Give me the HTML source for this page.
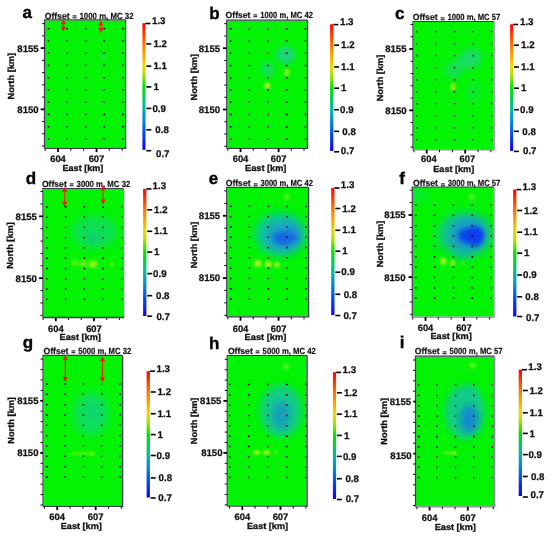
<!DOCTYPE html>
<html><head><meta charset="utf-8"><title>Figure</title>
<style>
html,body{margin:0;padding:0;background:#fff;overflow:hidden;}
svg{display:block;text-rendering:geometricPrecision;}
.t{font-family:"Liberation Sans", sans-serif;font-weight:bold;font-size:9.6px;fill:#111;stroke:#111;stroke-width:0.25px;}
.xl{font-family:"Liberation Sans", sans-serif;font-weight:bold;font-size:9.4px;fill:#111;stroke:#111;stroke-width:0.25px;}
.cl{font-family:"Liberation Sans", sans-serif;font-weight:bold;font-size:9.7px;fill:#111;stroke:#111;stroke-width:0.25px;}
.ax{font-family:"Liberation Sans", sans-serif;font-weight:bold;font-size:8.8px;fill:#111;stroke:#111;stroke-width:0.3px;}
.ti{font-family:"Liberation Sans", sans-serif;font-weight:bold;font-size:8.9px;fill:#111;stroke:#111;stroke-width:0.18px;}
.lt{font-family:"Liberation Sans", sans-serif;font-weight:bold;font-size:17px;fill:#000;stroke:#000;stroke-width:0.35px;}
</style></head>
<body>
<svg width="550" height="537" viewBox="0 0 550 537">
<defs>
<linearGradient id="cbg" x1="0" y1="1" x2="0" y2="0"><stop offset="0.0" stop-color="#1000f0"/><stop offset="0.17" stop-color="#0060f0"/><stop offset="0.25" stop-color="#0090d0"/><stop offset="0.33" stop-color="#00b8a0"/><stop offset="0.5" stop-color="#00e400"/><stop offset="0.6" stop-color="#b0e000"/><stop offset="0.67" stop-color="#f0d800"/><stop offset="0.83" stop-color="#ff7800"/><stop offset="1.0" stop-color="#ff0000"/></linearGradient>
<filter id="bl0_8" x="-100%" y="-100%" width="300%" height="300%"><feGaussianBlur stdDeviation="0.8"/></filter>
<filter id="bl1_5" x="-100%" y="-100%" width="300%" height="300%"><feGaussianBlur stdDeviation="1.5"/></filter>
<filter id="bl2_5" x="-100%" y="-100%" width="300%" height="300%"><feGaussianBlur stdDeviation="2.5"/></filter>
<filter id="bl3" x="-100%" y="-100%" width="300%" height="300%"><feGaussianBlur stdDeviation="3"/></filter>
<filter id="bl3_5" x="-100%" y="-100%" width="300%" height="300%"><feGaussianBlur stdDeviation="3.5"/></filter>
<filter id="bl1_1" x="-100%" y="-100%" width="300%" height="300%"><feGaussianBlur stdDeviation="1.1"/></filter>
<filter id="bl4" x="-100%" y="-100%" width="300%" height="300%"><feGaussianBlur stdDeviation="4"/></filter>
<filter id="bl1_2" x="-100%" y="-100%" width="300%" height="300%"><feGaussianBlur stdDeviation="1.2"/></filter>
<filter id="bl2" x="-100%" y="-100%" width="300%" height="300%"><feGaussianBlur stdDeviation="2"/></filter>
<filter id="bl1_3" x="-100%" y="-100%" width="300%" height="300%"><feGaussianBlur stdDeviation="1.3"/></filter>
<filter id="bl4_5" x="-100%" y="-100%" width="300%" height="300%"><feGaussianBlur stdDeviation="4.5"/></filter>
<filter id="bl2_3" x="-100%" y="-100%" width="300%" height="300%"><feGaussianBlur stdDeviation="2.3"/></filter>
<filter id="bl2_2" x="-100%" y="-100%" width="300%" height="300%"><feGaussianBlur stdDeviation="2.2"/></filter>
<filter id="bl1" x="-100%" y="-100%" width="300%" height="300%"><feGaussianBlur stdDeviation="1"/></filter>
<clipPath id="clipa"><rect x="45.0" y="20.4" width="80.1" height="127.4"/></clipPath>
<clipPath id="clipb"><rect x="227.2" y="20.6" width="79.80000000000001" height="127.20000000000002"/></clipPath>
<clipPath id="clipc"><rect x="413.5" y="22.0" width="80.10000000000002" height="127.30000000000001"/></clipPath>
<clipPath id="clipd"><rect x="43.4" y="189.0" width="79.80000000000001" height="128.0"/></clipPath>
<clipPath id="clipe"><rect x="227.2" y="187.8" width="80.90000000000003" height="128.59999999999997"/></clipPath>
<clipPath id="clipf"><rect x="412.8" y="187.7" width="80.69999999999999" height="128.90000000000003"/></clipPath>
<clipPath id="clipg"><rect x="43.5" y="355.9" width="78.6" height="149.90000000000003"/></clipPath>
<clipPath id="cliph"><rect x="227.7" y="356.0" width="78.90000000000003" height="149.60000000000002"/></clipPath>
<clipPath id="clipi"><rect x="416.0" y="356.7" width="78.10000000000002" height="149.60000000000002"/></clipPath>
</defs>
<rect width="550" height="537" fill="#fff"/>
<rect x="45.00" y="20.40" width="80.10" height="127.40" fill="#02f404"/>
<g clip-path="url(#clipa)">
<ellipse cx="103.6" cy="58.1" rx="3.5" ry="3.5" fill="#30d890" opacity="0.35" filter="url(#bl1_5)"/>
</g>
<rect x="47.75" y="27.85" width="1.7" height="1.5" fill="#000"/>
<rect x="47.75" y="40.12" width="1.7" height="1.5" fill="#000"/>
<rect x="47.75" y="52.38" width="1.7" height="1.5" fill="#000"/>
<rect x="47.75" y="64.65" width="1.7" height="1.5" fill="#000"/>
<rect x="47.75" y="76.92" width="1.7" height="1.5" fill="#000"/>
<rect x="47.75" y="89.18" width="1.7" height="1.5" fill="#000"/>
<rect x="47.75" y="101.45" width="1.7" height="1.5" fill="#000"/>
<rect x="47.75" y="113.72" width="1.7" height="1.5" fill="#000"/>
<rect x="47.75" y="125.98" width="1.7" height="1.5" fill="#000"/>
<rect x="47.75" y="138.25" width="1.7" height="1.5" fill="#000"/>
<rect x="66.30" y="27.85" width="1.7" height="1.5" fill="#000"/>
<rect x="66.30" y="40.12" width="1.7" height="1.5" fill="#000"/>
<rect x="66.30" y="52.38" width="1.7" height="1.5" fill="#000"/>
<rect x="66.30" y="64.65" width="1.7" height="1.5" fill="#000"/>
<rect x="66.30" y="76.92" width="1.7" height="1.5" fill="#000"/>
<rect x="66.30" y="89.18" width="1.7" height="1.5" fill="#000"/>
<rect x="66.30" y="101.45" width="1.7" height="1.5" fill="#000"/>
<rect x="66.30" y="113.72" width="1.7" height="1.5" fill="#000"/>
<rect x="66.30" y="125.98" width="1.7" height="1.5" fill="#000"/>
<rect x="66.30" y="138.25" width="1.7" height="1.5" fill="#000"/>
<rect x="84.85" y="27.85" width="1.7" height="1.5" fill="#000"/>
<rect x="84.85" y="40.12" width="1.7" height="1.5" fill="#000"/>
<rect x="84.85" y="52.38" width="1.7" height="1.5" fill="#000"/>
<rect x="84.85" y="64.65" width="1.7" height="1.5" fill="#000"/>
<rect x="84.85" y="76.92" width="1.7" height="1.5" fill="#000"/>
<rect x="84.85" y="89.18" width="1.7" height="1.5" fill="#000"/>
<rect x="84.85" y="101.45" width="1.7" height="1.5" fill="#000"/>
<rect x="84.85" y="113.72" width="1.7" height="1.5" fill="#000"/>
<rect x="84.85" y="125.98" width="1.7" height="1.5" fill="#000"/>
<rect x="84.85" y="138.25" width="1.7" height="1.5" fill="#000"/>
<rect x="103.40" y="27.85" width="1.7" height="1.5" fill="#000"/>
<rect x="103.40" y="40.12" width="1.7" height="1.5" fill="#000"/>
<rect x="103.40" y="52.38" width="1.7" height="1.5" fill="#000"/>
<rect x="103.40" y="64.65" width="1.7" height="1.5" fill="#000"/>
<rect x="103.40" y="76.92" width="1.7" height="1.5" fill="#000"/>
<rect x="103.40" y="89.18" width="1.7" height="1.5" fill="#000"/>
<rect x="103.40" y="101.45" width="1.7" height="1.5" fill="#000"/>
<rect x="103.40" y="113.72" width="1.7" height="1.5" fill="#000"/>
<rect x="103.40" y="125.98" width="1.7" height="1.5" fill="#000"/>
<rect x="103.40" y="138.25" width="1.7" height="1.5" fill="#000"/>
<rect x="121.95" y="27.85" width="1.7" height="1.5" fill="#000"/>
<rect x="121.95" y="40.12" width="1.7" height="1.5" fill="#000"/>
<rect x="121.95" y="52.38" width="1.7" height="1.5" fill="#000"/>
<rect x="121.95" y="64.65" width="1.7" height="1.5" fill="#000"/>
<rect x="121.95" y="76.92" width="1.7" height="1.5" fill="#000"/>
<rect x="121.95" y="89.18" width="1.7" height="1.5" fill="#000"/>
<rect x="121.95" y="101.45" width="1.7" height="1.5" fill="#000"/>
<rect x="121.95" y="113.72" width="1.7" height="1.5" fill="#000"/>
<rect x="121.95" y="125.98" width="1.7" height="1.5" fill="#000"/>
<rect x="121.95" y="138.25" width="1.7" height="1.5" fill="#000"/>
<path d="M44.50,148.30V19.90H125.60" fill="none" stroke="#3f3a55" stroke-width="1.2"/>
<path d="M125.60,19.90V148.30" fill="none" stroke="#3f3a55" stroke-width="1.3"/>
<path d="M44.50,148.30H126.20" fill="none" stroke="#3f3a55" stroke-width="1.3"/>
<line x1="42.00" y1="146.02" x2="44.50" y2="146.02" stroke="#111" stroke-width="1"/>
<line x1="42.00" y1="133.78" x2="44.50" y2="133.78" stroke="#111" stroke-width="1"/>
<line x1="42.00" y1="121.54" x2="44.50" y2="121.54" stroke="#111" stroke-width="1"/>
<line x1="40.70" y1="109.30" x2="44.50" y2="109.30" stroke="#000" stroke-width="1.8"/>
<line x1="42.00" y1="97.06" x2="44.50" y2="97.06" stroke="#111" stroke-width="1"/>
<line x1="42.00" y1="84.82" x2="44.50" y2="84.82" stroke="#111" stroke-width="1"/>
<line x1="42.00" y1="72.58" x2="44.50" y2="72.58" stroke="#111" stroke-width="1"/>
<line x1="42.00" y1="60.34" x2="44.50" y2="60.34" stroke="#111" stroke-width="1"/>
<line x1="40.70" y1="48.10" x2="44.50" y2="48.10" stroke="#000" stroke-width="1.8"/>
<line x1="42.00" y1="35.86" x2="44.50" y2="35.86" stroke="#111" stroke-width="1"/>
<line x1="42.00" y1="23.62" x2="44.50" y2="23.62" stroke="#111" stroke-width="1"/>
<line x1="45.17" y1="148.30" x2="45.17" y2="150.80" stroke="#111" stroke-width="1"/>
<line x1="58.00" y1="148.30" x2="58.00" y2="152.10" stroke="#000" stroke-width="1.8"/>
<line x1="70.83" y1="148.30" x2="70.83" y2="150.80" stroke="#111" stroke-width="1"/>
<line x1="83.66" y1="148.30" x2="83.66" y2="150.80" stroke="#111" stroke-width="1"/>
<line x1="96.49" y1="148.30" x2="96.49" y2="152.10" stroke="#000" stroke-width="1.8"/>
<line x1="109.32" y1="148.30" x2="109.32" y2="150.80" stroke="#111" stroke-width="1"/>
<line x1="122.15" y1="148.30" x2="122.15" y2="150.80" stroke="#111" stroke-width="1"/>
<text x="38.70" y="51.50" text-anchor="end" class="t">8155</text>
<text x="38.70" y="112.70" text-anchor="end" class="t">8150</text>
<text transform="translate(13.70,76.20) rotate(-90)" x="0" y="0" text-anchor="middle" class="ax" textLength="46.7" lengthAdjust="spacingAndGlyphs">North [km]</text>
<text x="58.00" y="162.10" text-anchor="middle" class="xl">604</text>
<text x="96.49" y="162.10" text-anchor="middle" class="xl">607</text>
<text x="62.50" y="170.70" class="ax" textLength="40.9" lengthAdjust="spacingAndGlyphs">East [km]</text>
<text x="44.80" y="18.80" class="ti" textLength="24.9" lengthAdjust="spacingAndGlyphs">Offset</text>
<text x="72.50" y="19.40" class="ti" style="font-size:6.6px" textLength="4.2" lengthAdjust="spacingAndGlyphs">=</text>
<text x="79.50" y="18.80" class="ti" textLength="54.1" lengthAdjust="spacingAndGlyphs">1000 m, MC 32</text>
<text x="22.60" y="18.30" class="lt">a</text>
<rect x="142.40" y="23.20" width="3.10" height="126.60" fill="url(#cbg)"/>
<line x1="145.50" y1="23.50" x2="150.50" y2="23.50" stroke="#000" stroke-width="1.6"/>
<text x="152.00" y="23.90" class="cl">1.3</text>
<line x1="146.30" y1="43.90" x2="151.30" y2="43.90" stroke="#000" stroke-width="1.6"/>
<text x="153.40" y="47.00" class="cl">1.2</text>
<line x1="146.30" y1="66.20" x2="151.30" y2="66.20" stroke="#000" stroke-width="1.6"/>
<text x="153.40" y="69.30" class="cl">1.1</text>
<line x1="146.30" y1="86.90" x2="151.30" y2="86.90" stroke="#000" stroke-width="1.6"/>
<text x="153.40" y="90.00" class="cl">1</text>
<line x1="146.30" y1="108.40" x2="151.30" y2="108.40" stroke="#000" stroke-width="1.6"/>
<text x="152.40" y="111.50" class="cl">0.9</text>
<line x1="146.30" y1="129.80" x2="151.30" y2="129.80" stroke="#000" stroke-width="1.6"/>
<text x="155.30" y="133.10" class="cl">0.8</text>
<line x1="146.30" y1="150.70" x2="151.30" y2="150.70" stroke="#000" stroke-width="1.6"/>
<text x="156.00" y="156.60" class="cl">0.7</text>
<line x1="63.4" y1="23.7" x2="63.4" y2="27.2" stroke="#f03000" stroke-width="1.2"/>
<polygon points="60.85,24.2 65.95,24.2 63.4,19.2" fill="#ff1010"/>
<polygon points="60.85,26.7 65.95,26.7 63.4,31.7" fill="#ff1010"/>
<line x1="100.8" y1="25.0" x2="100.8" y2="28.5" stroke="#f03000" stroke-width="1.2"/>
<polygon points="98.25,25.5 103.35,25.5 100.8,20.5" fill="#ff1010"/>
<polygon points="98.25,28.0 103.35,28.0 100.8,33.0" fill="#ff1010"/>
<rect x="227.20" y="20.60" width="79.80" height="127.20" fill="#02f404"/>
<g clip-path="url(#clipb)">
<ellipse cx="285.5" cy="55" rx="9.5" ry="9" fill="#20cc98" opacity="0.8" filter="url(#bl2_5)"/>
<ellipse cx="267.5" cy="69" rx="6.5" ry="7.5" fill="#20cc98" opacity="0.65" filter="url(#bl2_5)"/>
<ellipse cx="286.9" cy="72.4" rx="2.6" ry="3.4" fill="#a8e828" opacity="0.85" filter="url(#bl1_1)"/>
<ellipse cx="267.3" cy="85.8" rx="3.3" ry="3.3" fill="#b0e828" opacity="0.9" filter="url(#bl1_1)"/>
</g>
<rect x="229.75" y="28.05" width="1.7" height="1.5" fill="#000"/>
<rect x="229.75" y="40.29" width="1.7" height="1.5" fill="#000"/>
<rect x="229.75" y="52.54" width="1.7" height="1.5" fill="#000"/>
<rect x="229.75" y="64.78" width="1.7" height="1.5" fill="#000"/>
<rect x="229.75" y="77.03" width="1.7" height="1.5" fill="#000"/>
<rect x="229.75" y="89.27" width="1.7" height="1.5" fill="#000"/>
<rect x="229.75" y="101.52" width="1.7" height="1.5" fill="#000"/>
<rect x="229.75" y="113.76" width="1.7" height="1.5" fill="#000"/>
<rect x="229.75" y="126.01" width="1.7" height="1.5" fill="#000"/>
<rect x="229.75" y="138.25" width="1.7" height="1.5" fill="#000"/>
<rect x="248.45" y="28.05" width="1.7" height="1.5" fill="#000"/>
<rect x="248.45" y="40.29" width="1.7" height="1.5" fill="#000"/>
<rect x="248.45" y="52.54" width="1.7" height="1.5" fill="#000"/>
<rect x="248.45" y="64.78" width="1.7" height="1.5" fill="#000"/>
<rect x="248.45" y="77.03" width="1.7" height="1.5" fill="#000"/>
<rect x="248.45" y="89.27" width="1.7" height="1.5" fill="#000"/>
<rect x="248.45" y="101.52" width="1.7" height="1.5" fill="#000"/>
<rect x="248.45" y="113.76" width="1.7" height="1.5" fill="#000"/>
<rect x="248.45" y="126.01" width="1.7" height="1.5" fill="#000"/>
<rect x="248.45" y="138.25" width="1.7" height="1.5" fill="#000"/>
<rect x="267.15" y="28.05" width="1.7" height="1.5" fill="#000"/>
<rect x="267.15" y="40.29" width="1.7" height="1.5" fill="#000"/>
<rect x="267.15" y="52.54" width="1.7" height="1.5" fill="#000"/>
<rect x="267.15" y="64.78" width="1.7" height="1.5" fill="#000"/>
<rect x="267.15" y="77.03" width="1.7" height="1.5" fill="#000"/>
<rect x="267.15" y="89.27" width="1.7" height="1.5" fill="#000"/>
<rect x="267.15" y="101.52" width="1.7" height="1.5" fill="#000"/>
<rect x="267.15" y="113.76" width="1.7" height="1.5" fill="#000"/>
<rect x="267.15" y="126.01" width="1.7" height="1.5" fill="#000"/>
<rect x="267.15" y="138.25" width="1.7" height="1.5" fill="#000"/>
<rect x="285.85" y="28.05" width="1.7" height="1.5" fill="#000"/>
<rect x="285.85" y="40.29" width="1.7" height="1.5" fill="#000"/>
<rect x="285.85" y="52.54" width="1.7" height="1.5" fill="#000"/>
<rect x="285.85" y="64.78" width="1.7" height="1.5" fill="#000"/>
<rect x="285.85" y="77.03" width="1.7" height="1.5" fill="#000"/>
<rect x="285.85" y="89.27" width="1.7" height="1.5" fill="#000"/>
<rect x="285.85" y="101.52" width="1.7" height="1.5" fill="#000"/>
<rect x="285.85" y="113.76" width="1.7" height="1.5" fill="#000"/>
<rect x="285.85" y="126.01" width="1.7" height="1.5" fill="#000"/>
<rect x="285.85" y="138.25" width="1.7" height="1.5" fill="#000"/>
<rect x="304.55" y="28.05" width="1.7" height="1.5" fill="#000"/>
<rect x="304.55" y="40.29" width="1.7" height="1.5" fill="#000"/>
<rect x="304.55" y="52.54" width="1.7" height="1.5" fill="#000"/>
<rect x="304.55" y="64.78" width="1.7" height="1.5" fill="#000"/>
<rect x="304.55" y="77.03" width="1.7" height="1.5" fill="#000"/>
<rect x="304.55" y="89.27" width="1.7" height="1.5" fill="#000"/>
<rect x="304.55" y="101.52" width="1.7" height="1.5" fill="#000"/>
<rect x="304.55" y="113.76" width="1.7" height="1.5" fill="#000"/>
<rect x="304.55" y="126.01" width="1.7" height="1.5" fill="#000"/>
<rect x="304.55" y="138.25" width="1.7" height="1.5" fill="#000"/>
<path d="M226.70,148.30V20.10H307.50" fill="none" stroke="#3f3a55" stroke-width="1.2"/>
<path d="M307.50,20.10V148.30" fill="none" stroke="#3f3a55" stroke-width="1.3"/>
<path d="M226.70,148.30H308.10" fill="none" stroke="#3f3a55" stroke-width="1.3"/>
<line x1="224.20" y1="146.28" x2="226.70" y2="146.28" stroke="#111" stroke-width="1"/>
<line x1="224.20" y1="134.02" x2="226.70" y2="134.02" stroke="#111" stroke-width="1"/>
<line x1="224.20" y1="121.76" x2="226.70" y2="121.76" stroke="#111" stroke-width="1"/>
<line x1="222.90" y1="109.50" x2="226.70" y2="109.50" stroke="#000" stroke-width="1.8"/>
<line x1="224.20" y1="97.24" x2="226.70" y2="97.24" stroke="#111" stroke-width="1"/>
<line x1="224.20" y1="84.98" x2="226.70" y2="84.98" stroke="#111" stroke-width="1"/>
<line x1="224.20" y1="72.72" x2="226.70" y2="72.72" stroke="#111" stroke-width="1"/>
<line x1="224.20" y1="60.46" x2="226.70" y2="60.46" stroke="#111" stroke-width="1"/>
<line x1="222.90" y1="48.20" x2="226.70" y2="48.20" stroke="#000" stroke-width="1.8"/>
<line x1="224.20" y1="35.94" x2="226.70" y2="35.94" stroke="#111" stroke-width="1"/>
<line x1="224.20" y1="23.68" x2="226.70" y2="23.68" stroke="#111" stroke-width="1"/>
<line x1="227.80" y1="148.30" x2="227.80" y2="150.80" stroke="#111" stroke-width="1"/>
<line x1="240.50" y1="148.30" x2="240.50" y2="152.10" stroke="#000" stroke-width="1.8"/>
<line x1="253.20" y1="148.30" x2="253.20" y2="150.80" stroke="#111" stroke-width="1"/>
<line x1="265.90" y1="148.30" x2="265.90" y2="150.80" stroke="#111" stroke-width="1"/>
<line x1="278.60" y1="148.30" x2="278.60" y2="152.10" stroke="#000" stroke-width="1.8"/>
<line x1="291.30" y1="148.30" x2="291.30" y2="150.80" stroke="#111" stroke-width="1"/>
<line x1="304.00" y1="148.30" x2="304.00" y2="150.80" stroke="#111" stroke-width="1"/>
<text x="220.10" y="51.60" text-anchor="end" class="t">8155</text>
<text x="220.10" y="112.90" text-anchor="end" class="t">8150</text>
<text transform="translate(196.50,77.20) rotate(-90)" x="0" y="0" text-anchor="middle" class="ax" textLength="46.7" lengthAdjust="spacingAndGlyphs">North [km]</text>
<text x="240.50" y="162.20" text-anchor="middle" class="xl">604</text>
<text x="278.60" y="162.20" text-anchor="middle" class="xl">607</text>
<text x="245.10" y="170.70" class="ax" textLength="41.3" lengthAdjust="spacingAndGlyphs">East [km]</text>
<text x="225.60" y="17.70" class="ti" textLength="24.9" lengthAdjust="spacingAndGlyphs">Offset</text>
<text x="253.30" y="18.30" class="ti" style="font-size:6.6px" textLength="4.2" lengthAdjust="spacingAndGlyphs">=</text>
<text x="260.30" y="17.70" class="ti" textLength="52.7" lengthAdjust="spacingAndGlyphs">1000 m, MC 42</text>
<text x="209.30" y="18.60" class="lt">b</text>
<rect x="330.10" y="24.30" width="3.20" height="126.70" fill="url(#cbg)"/>
<line x1="333.30" y1="24.60" x2="338.30" y2="24.60" stroke="#000" stroke-width="1.6"/>
<text x="340.00" y="25.00" class="cl">1.3</text>
<line x1="334.10" y1="45.20" x2="339.10" y2="45.20" stroke="#000" stroke-width="1.6"/>
<text x="341.10" y="48.30" class="cl">1.2</text>
<line x1="334.10" y1="67.00" x2="339.10" y2="67.00" stroke="#000" stroke-width="1.6"/>
<text x="341.10" y="70.10" class="cl">1.1</text>
<line x1="334.10" y1="88.20" x2="339.10" y2="88.20" stroke="#000" stroke-width="1.6"/>
<text x="341.10" y="91.30" class="cl">1</text>
<line x1="334.10" y1="109.70" x2="339.10" y2="109.70" stroke="#000" stroke-width="1.6"/>
<text x="340.10" y="112.80" class="cl">0.9</text>
<line x1="334.10" y1="131.30" x2="339.10" y2="131.30" stroke="#000" stroke-width="1.6"/>
<text x="342.30" y="134.60" class="cl">0.8</text>
<line x1="334.10" y1="151.80" x2="339.10" y2="151.80" stroke="#000" stroke-width="1.6"/>
<text x="340.80" y="154.30" class="cl">0.7</text>
<rect x="413.50" y="22.00" width="80.10" height="127.30" fill="#02f404"/>
<g clip-path="url(#clipc)">
<ellipse cx="471.3" cy="58" rx="10" ry="10" fill="#28d098" opacity="0.7" filter="url(#bl3_5)"/>
<ellipse cx="453.1" cy="70" rx="8" ry="8" fill="#28d098" opacity="0.6" filter="url(#bl3_5)"/>
<ellipse cx="462" cy="64" rx="8" ry="8" fill="#28d098" opacity="0.4" filter="url(#bl3)"/>
<ellipse cx="473.7" cy="92" rx="7" ry="9" fill="#28d098" opacity="0.3" filter="url(#bl3)"/>
<ellipse cx="453.1" cy="87" rx="2.6" ry="4" fill="#a8e028" opacity="0.9" filter="url(#bl1_1)"/>
</g>
<rect x="416.25" y="30.85" width="1.7" height="1.5" fill="#000"/>
<rect x="416.25" y="42.87" width="1.7" height="1.5" fill="#000"/>
<rect x="416.25" y="54.89" width="1.7" height="1.5" fill="#000"/>
<rect x="416.25" y="66.92" width="1.7" height="1.5" fill="#000"/>
<rect x="416.25" y="78.94" width="1.7" height="1.5" fill="#000"/>
<rect x="416.25" y="90.96" width="1.7" height="1.5" fill="#000"/>
<rect x="416.25" y="102.98" width="1.7" height="1.5" fill="#000"/>
<rect x="416.25" y="115.01" width="1.7" height="1.5" fill="#000"/>
<rect x="416.25" y="127.03" width="1.7" height="1.5" fill="#000"/>
<rect x="416.25" y="139.05" width="1.7" height="1.5" fill="#000"/>
<rect x="434.93" y="30.85" width="1.7" height="1.5" fill="#000"/>
<rect x="434.93" y="42.87" width="1.7" height="1.5" fill="#000"/>
<rect x="434.93" y="54.89" width="1.7" height="1.5" fill="#000"/>
<rect x="434.93" y="66.92" width="1.7" height="1.5" fill="#000"/>
<rect x="434.93" y="78.94" width="1.7" height="1.5" fill="#000"/>
<rect x="434.93" y="90.96" width="1.7" height="1.5" fill="#000"/>
<rect x="434.93" y="102.98" width="1.7" height="1.5" fill="#000"/>
<rect x="434.93" y="115.01" width="1.7" height="1.5" fill="#000"/>
<rect x="434.93" y="127.03" width="1.7" height="1.5" fill="#000"/>
<rect x="434.93" y="139.05" width="1.7" height="1.5" fill="#000"/>
<rect x="453.60" y="30.85" width="1.7" height="1.5" fill="#000"/>
<rect x="453.60" y="42.87" width="1.7" height="1.5" fill="#000"/>
<rect x="453.60" y="54.89" width="1.7" height="1.5" fill="#000"/>
<rect x="453.60" y="66.92" width="1.7" height="1.5" fill="#000"/>
<rect x="453.60" y="78.94" width="1.7" height="1.5" fill="#000"/>
<rect x="453.60" y="90.96" width="1.7" height="1.5" fill="#000"/>
<rect x="453.60" y="102.98" width="1.7" height="1.5" fill="#000"/>
<rect x="453.60" y="115.01" width="1.7" height="1.5" fill="#000"/>
<rect x="453.60" y="127.03" width="1.7" height="1.5" fill="#000"/>
<rect x="453.60" y="139.05" width="1.7" height="1.5" fill="#000"/>
<rect x="472.27" y="30.85" width="1.7" height="1.5" fill="#000"/>
<rect x="472.27" y="42.87" width="1.7" height="1.5" fill="#000"/>
<rect x="472.27" y="54.89" width="1.7" height="1.5" fill="#000"/>
<rect x="472.27" y="66.92" width="1.7" height="1.5" fill="#000"/>
<rect x="472.27" y="78.94" width="1.7" height="1.5" fill="#000"/>
<rect x="472.27" y="90.96" width="1.7" height="1.5" fill="#000"/>
<rect x="472.27" y="102.98" width="1.7" height="1.5" fill="#000"/>
<rect x="472.27" y="115.01" width="1.7" height="1.5" fill="#000"/>
<rect x="472.27" y="127.03" width="1.7" height="1.5" fill="#000"/>
<rect x="472.27" y="139.05" width="1.7" height="1.5" fill="#000"/>
<rect x="490.95" y="30.85" width="1.7" height="1.5" fill="#000"/>
<rect x="490.95" y="42.87" width="1.7" height="1.5" fill="#000"/>
<rect x="490.95" y="54.89" width="1.7" height="1.5" fill="#000"/>
<rect x="490.95" y="66.92" width="1.7" height="1.5" fill="#000"/>
<rect x="490.95" y="78.94" width="1.7" height="1.5" fill="#000"/>
<rect x="490.95" y="90.96" width="1.7" height="1.5" fill="#000"/>
<rect x="490.95" y="102.98" width="1.7" height="1.5" fill="#000"/>
<rect x="490.95" y="115.01" width="1.7" height="1.5" fill="#000"/>
<rect x="490.95" y="127.03" width="1.7" height="1.5" fill="#000"/>
<rect x="490.95" y="139.05" width="1.7" height="1.5" fill="#000"/>
<path d="M413.00,149.80V21.50H494.10" fill="none" stroke="#3f3a55" stroke-width="1.2"/>
<path d="M494.10,21.50V149.80" fill="none" stroke="#8a8595" stroke-width="1.3"/>
<path d="M413.00,149.80H494.70" fill="none" stroke="#8a8595" stroke-width="1.3"/>
<line x1="410.50" y1="147.08" x2="413.00" y2="147.08" stroke="#111" stroke-width="1"/>
<line x1="410.50" y1="134.82" x2="413.00" y2="134.82" stroke="#111" stroke-width="1"/>
<line x1="410.50" y1="122.56" x2="413.00" y2="122.56" stroke="#111" stroke-width="1"/>
<line x1="409.20" y1="110.30" x2="413.00" y2="110.30" stroke="#000" stroke-width="1.8"/>
<line x1="410.50" y1="98.04" x2="413.00" y2="98.04" stroke="#111" stroke-width="1"/>
<line x1="410.50" y1="85.78" x2="413.00" y2="85.78" stroke="#111" stroke-width="1"/>
<line x1="410.50" y1="73.52" x2="413.00" y2="73.52" stroke="#111" stroke-width="1"/>
<line x1="410.50" y1="61.26" x2="413.00" y2="61.26" stroke="#111" stroke-width="1"/>
<line x1="409.20" y1="49.00" x2="413.00" y2="49.00" stroke="#000" stroke-width="1.8"/>
<line x1="410.50" y1="36.74" x2="413.00" y2="36.74" stroke="#111" stroke-width="1"/>
<line x1="410.50" y1="24.48" x2="413.00" y2="24.48" stroke="#111" stroke-width="1"/>
<line x1="413.87" y1="149.80" x2="413.87" y2="152.30" stroke="#111" stroke-width="1"/>
<line x1="426.70" y1="149.80" x2="426.70" y2="153.60" stroke="#000" stroke-width="1.8"/>
<line x1="439.53" y1="149.80" x2="439.53" y2="152.30" stroke="#111" stroke-width="1"/>
<line x1="452.36" y1="149.80" x2="452.36" y2="152.30" stroke="#111" stroke-width="1"/>
<line x1="465.19" y1="149.80" x2="465.19" y2="153.60" stroke="#000" stroke-width="1.8"/>
<line x1="478.02" y1="149.80" x2="478.02" y2="152.30" stroke="#111" stroke-width="1"/>
<line x1="490.85" y1="149.80" x2="490.85" y2="152.30" stroke="#111" stroke-width="1"/>
<text x="406.50" y="52.40" text-anchor="end" class="t">8155</text>
<text x="406.70" y="113.70" text-anchor="end" class="t">8150</text>
<text transform="translate(383.10,78.00) rotate(-90)" x="0" y="0" text-anchor="middle" class="ax" textLength="46.7" lengthAdjust="spacingAndGlyphs">North [km]</text>
<text x="428.80" y="162.40" text-anchor="middle" class="xl">604</text>
<text x="467.29" y="162.40" text-anchor="middle" class="xl">607</text>
<text x="433.30" y="171.60" class="ax" textLength="40.9" lengthAdjust="spacingAndGlyphs">East [km]</text>
<text x="412.80" y="20.00" class="ti" textLength="24.9" lengthAdjust="spacingAndGlyphs">Offset</text>
<text x="440.50" y="20.60" class="ti" style="font-size:6.6px" textLength="4.2" lengthAdjust="spacingAndGlyphs">=</text>
<text x="447.50" y="20.00" class="ti" textLength="52.8" lengthAdjust="spacingAndGlyphs">1000 m, MC 57</text>
<text x="395.10" y="18.80" class="lt">c</text>
<rect x="510.10" y="24.30" width="3.00" height="126.70" fill="url(#cbg)"/>
<line x1="513.10" y1="24.50" x2="518.10" y2="24.50" stroke="#000" stroke-width="1.6"/>
<text x="520.00" y="24.90" class="cl">1.3</text>
<line x1="513.90" y1="45.20" x2="518.90" y2="45.20" stroke="#000" stroke-width="1.6"/>
<text x="521.10" y="48.30" class="cl">1.2</text>
<line x1="513.90" y1="67.00" x2="518.90" y2="67.00" stroke="#000" stroke-width="1.6"/>
<text x="521.10" y="70.10" class="cl">1.1</text>
<line x1="513.90" y1="88.20" x2="518.90" y2="88.20" stroke="#000" stroke-width="1.6"/>
<text x="521.10" y="91.30" class="cl">1</text>
<line x1="513.90" y1="109.70" x2="518.90" y2="109.70" stroke="#000" stroke-width="1.6"/>
<text x="520.10" y="112.80" class="cl">0.9</text>
<line x1="513.90" y1="131.30" x2="518.90" y2="131.30" stroke="#000" stroke-width="1.6"/>
<text x="522.30" y="134.60" class="cl">0.8</text>
<line x1="513.90" y1="151.40" x2="518.90" y2="151.40" stroke="#000" stroke-width="1.6"/>
<text x="523.00" y="154.30" class="cl">0.7</text>
<rect x="43.40" y="189.00" width="79.80" height="128.00" fill="#02f404"/>
<g clip-path="url(#clipd)">
<ellipse cx="94.5" cy="232" rx="23" ry="16" fill="#18d08c" opacity="0.6" filter="url(#bl4)"/>
<ellipse cx="93.2" cy="238.9" rx="7" ry="5" fill="#10b8a0" opacity="0.45" filter="url(#bl3)"/>
<ellipse cx="74.3" cy="262.3" rx="3" ry="3" fill="#c0f020" opacity="0.35" filter="url(#bl1_5)"/>
<ellipse cx="83.4" cy="263.6" rx="3" ry="3" fill="#c8f020" opacity="0.5" filter="url(#bl1_5)"/>
<ellipse cx="93.2" cy="264.2" rx="3.8" ry="3.5" fill="#d0f020" opacity="0.7" filter="url(#bl1_5)"/>
<ellipse cx="112" cy="265" rx="2.5" ry="2.5" fill="#c0f020" opacity="0.35" filter="url(#bl1_2)"/>
<ellipse cx="85" cy="264" rx="14" ry="4" fill="#b0f020" opacity="0.2" filter="url(#bl2)"/>
</g>
<rect x="46.05" y="206.15" width="1.7" height="1.5" fill="#000"/>
<rect x="46.05" y="216.42" width="1.7" height="1.5" fill="#000"/>
<rect x="46.05" y="226.68" width="1.7" height="1.5" fill="#000"/>
<rect x="46.05" y="236.95" width="1.7" height="1.5" fill="#000"/>
<rect x="46.05" y="247.22" width="1.7" height="1.5" fill="#000"/>
<rect x="46.05" y="257.48" width="1.7" height="1.5" fill="#000"/>
<rect x="46.05" y="267.75" width="1.7" height="1.5" fill="#000"/>
<rect x="46.05" y="278.02" width="1.7" height="1.5" fill="#000"/>
<rect x="46.05" y="288.28" width="1.7" height="1.5" fill="#000"/>
<rect x="46.05" y="298.55" width="1.7" height="1.5" fill="#000"/>
<rect x="64.78" y="206.15" width="1.7" height="1.5" fill="#000"/>
<rect x="64.78" y="216.42" width="1.7" height="1.5" fill="#000"/>
<rect x="64.78" y="226.68" width="1.7" height="1.5" fill="#000"/>
<rect x="64.78" y="236.95" width="1.7" height="1.5" fill="#000"/>
<rect x="64.78" y="247.22" width="1.7" height="1.5" fill="#000"/>
<rect x="64.78" y="257.48" width="1.7" height="1.5" fill="#000"/>
<rect x="64.78" y="267.75" width="1.7" height="1.5" fill="#000"/>
<rect x="64.78" y="278.02" width="1.7" height="1.5" fill="#000"/>
<rect x="64.78" y="288.28" width="1.7" height="1.5" fill="#000"/>
<rect x="64.78" y="298.55" width="1.7" height="1.5" fill="#000"/>
<rect x="83.50" y="206.15" width="1.7" height="1.5" fill="#000"/>
<rect x="83.50" y="216.42" width="1.7" height="1.5" fill="#000"/>
<rect x="83.50" y="226.68" width="1.7" height="1.5" fill="#000"/>
<rect x="83.50" y="236.95" width="1.7" height="1.5" fill="#000"/>
<rect x="83.50" y="247.22" width="1.7" height="1.5" fill="#000"/>
<rect x="83.50" y="257.48" width="1.7" height="1.5" fill="#000"/>
<rect x="83.50" y="267.75" width="1.7" height="1.5" fill="#000"/>
<rect x="83.50" y="278.02" width="1.7" height="1.5" fill="#000"/>
<rect x="83.50" y="288.28" width="1.7" height="1.5" fill="#000"/>
<rect x="83.50" y="298.55" width="1.7" height="1.5" fill="#000"/>
<rect x="102.23" y="206.15" width="1.7" height="1.5" fill="#000"/>
<rect x="102.23" y="216.42" width="1.7" height="1.5" fill="#000"/>
<rect x="102.23" y="226.68" width="1.7" height="1.5" fill="#000"/>
<rect x="102.23" y="236.95" width="1.7" height="1.5" fill="#000"/>
<rect x="102.23" y="247.22" width="1.7" height="1.5" fill="#000"/>
<rect x="102.23" y="257.48" width="1.7" height="1.5" fill="#000"/>
<rect x="102.23" y="267.75" width="1.7" height="1.5" fill="#000"/>
<rect x="102.23" y="278.02" width="1.7" height="1.5" fill="#000"/>
<rect x="102.23" y="288.28" width="1.7" height="1.5" fill="#000"/>
<rect x="102.23" y="298.55" width="1.7" height="1.5" fill="#000"/>
<rect x="120.95" y="206.15" width="1.7" height="1.5" fill="#000"/>
<rect x="120.95" y="216.42" width="1.7" height="1.5" fill="#000"/>
<rect x="120.95" y="226.68" width="1.7" height="1.5" fill="#000"/>
<rect x="120.95" y="236.95" width="1.7" height="1.5" fill="#000"/>
<rect x="120.95" y="247.22" width="1.7" height="1.5" fill="#000"/>
<rect x="120.95" y="257.48" width="1.7" height="1.5" fill="#000"/>
<rect x="120.95" y="267.75" width="1.7" height="1.5" fill="#000"/>
<rect x="120.95" y="278.02" width="1.7" height="1.5" fill="#000"/>
<rect x="120.95" y="288.28" width="1.7" height="1.5" fill="#000"/>
<rect x="120.95" y="298.55" width="1.7" height="1.5" fill="#000"/>
<path d="M42.90,317.50V188.50H123.70" fill="none" stroke="#3f3a55" stroke-width="1.2"/>
<path d="M123.70,188.50V317.50" fill="none" stroke="#8a8595" stroke-width="1.3"/>
<path d="M42.90,317.50H124.30" fill="none" stroke="#3f3a55" stroke-width="1.3"/>
<line x1="40.40" y1="315.34" x2="42.90" y2="315.34" stroke="#111" stroke-width="1"/>
<line x1="40.40" y1="302.96" x2="42.90" y2="302.96" stroke="#111" stroke-width="1"/>
<line x1="40.40" y1="290.58" x2="42.90" y2="290.58" stroke="#111" stroke-width="1"/>
<line x1="39.10" y1="278.20" x2="42.90" y2="278.20" stroke="#000" stroke-width="1.8"/>
<line x1="40.40" y1="265.82" x2="42.90" y2="265.82" stroke="#111" stroke-width="1"/>
<line x1="40.40" y1="253.44" x2="42.90" y2="253.44" stroke="#111" stroke-width="1"/>
<line x1="40.40" y1="241.06" x2="42.90" y2="241.06" stroke="#111" stroke-width="1"/>
<line x1="40.40" y1="228.68" x2="42.90" y2="228.68" stroke="#111" stroke-width="1"/>
<line x1="39.10" y1="216.30" x2="42.90" y2="216.30" stroke="#000" stroke-width="1.8"/>
<line x1="40.40" y1="203.92" x2="42.90" y2="203.92" stroke="#111" stroke-width="1"/>
<line x1="40.40" y1="191.54" x2="42.90" y2="191.54" stroke="#111" stroke-width="1"/>
<line x1="43.07" y1="317.50" x2="43.07" y2="320.00" stroke="#111" stroke-width="1"/>
<line x1="55.80" y1="317.50" x2="55.80" y2="321.30" stroke="#000" stroke-width="1.8"/>
<line x1="68.53" y1="317.50" x2="68.53" y2="320.00" stroke="#111" stroke-width="1"/>
<line x1="81.26" y1="317.50" x2="81.26" y2="320.00" stroke="#111" stroke-width="1"/>
<line x1="93.99" y1="317.50" x2="93.99" y2="321.30" stroke="#000" stroke-width="1.8"/>
<line x1="106.72" y1="317.50" x2="106.72" y2="320.00" stroke="#111" stroke-width="1"/>
<line x1="119.45" y1="317.50" x2="119.45" y2="320.00" stroke="#111" stroke-width="1"/>
<text x="36.90" y="219.70" text-anchor="end" class="t">8155</text>
<text x="36.90" y="281.60" text-anchor="end" class="t">8150</text>
<text transform="translate(13.00,245.50) rotate(-90)" x="0" y="0" text-anchor="middle" class="ax" textLength="46.7" lengthAdjust="spacingAndGlyphs">North [km]</text>
<text x="55.80" y="332.20" text-anchor="middle" class="xl">604</text>
<text x="93.99" y="332.20" text-anchor="middle" class="xl">607</text>
<text x="59.60" y="340.40" class="ax" textLength="41.3" lengthAdjust="spacingAndGlyphs">East [km]</text>
<text x="41.90" y="186.80" class="ti" textLength="24.9" lengthAdjust="spacingAndGlyphs">Offset</text>
<text x="69.60" y="187.40" class="ti" style="font-size:6.6px" textLength="4.2" lengthAdjust="spacingAndGlyphs">=</text>
<text x="76.60" y="186.80" class="ti" textLength="53.7" lengthAdjust="spacingAndGlyphs">3000 m, MC 32</text>
<text x="25.80" y="183.80" class="lt">d</text>
<rect x="143.10" y="188.90" width="3.30" height="127.10" fill="url(#cbg)"/>
<line x1="146.40" y1="188.90" x2="151.40" y2="188.90" stroke="#000" stroke-width="1.6"/>
<text x="152.60" y="189.30" class="cl">1.3</text>
<line x1="147.20" y1="209.80" x2="152.20" y2="209.80" stroke="#000" stroke-width="1.6"/>
<text x="154.10" y="212.90" class="cl">1.2</text>
<line x1="147.20" y1="231.30" x2="152.20" y2="231.30" stroke="#000" stroke-width="1.6"/>
<text x="154.10" y="234.40" class="cl">1.1</text>
<line x1="147.20" y1="252.10" x2="152.20" y2="252.10" stroke="#000" stroke-width="1.6"/>
<text x="154.10" y="255.20" class="cl">1</text>
<line x1="147.20" y1="273.60" x2="152.20" y2="273.60" stroke="#000" stroke-width="1.6"/>
<text x="153.10" y="276.70" class="cl">0.9</text>
<line x1="147.20" y1="295.70" x2="152.20" y2="295.70" stroke="#000" stroke-width="1.6"/>
<text x="156.00" y="299.00" class="cl">0.8</text>
<line x1="147.20" y1="316.20" x2="152.20" y2="316.20" stroke="#000" stroke-width="1.6"/>
<text x="156.40" y="320.30" class="cl">0.7</text>
<line x1="64.6" y1="191.2" x2="64.6" y2="202.3" stroke="#f03000" stroke-width="1.2"/>
<polygon points="62.05,191.7 67.14999999999999,191.7 64.6,186.7" fill="#ff1010"/>
<polygon points="62.05,201.8 67.14999999999999,201.8 64.6,206.8" fill="#ff1010"/>
<line x1="103.1" y1="189.8" x2="103.1" y2="200.1" stroke="#f03000" stroke-width="1.2"/>
<polygon points="100.55,190.3 105.64999999999999,190.3 103.1,185.3" fill="#ff1010"/>
<polygon points="100.55,199.6 105.64999999999999,199.6 103.1,204.6" fill="#ff1010"/>
<rect x="227.20" y="187.80" width="80.90" height="128.60" fill="#02f404"/>
<g clip-path="url(#clipe)">
<ellipse cx="280" cy="234" rx="25.5" ry="21.5" fill="#10c4a8" opacity="0.85" filter="url(#bl4)"/>
<ellipse cx="283" cy="236" rx="19" ry="16" fill="#2496d8" opacity="0.75" filter="url(#bl4)"/>
<ellipse cx="286.5" cy="237.5" rx="11.5" ry="6.5" fill="#1464e6" opacity="0.9" filter="url(#bl2_5)"/>
<ellipse cx="283.5" cy="241.5" rx="6" ry="4" fill="#1464e6" opacity="0.6" filter="url(#bl2)"/>
<ellipse cx="277.6" cy="237.2" rx="5" ry="4.5" fill="#1060e8" opacity="0.6" filter="url(#bl2)"/>
<ellipse cx="292.7" cy="230" rx="5" ry="4" fill="#2088dc" opacity="0.5" filter="url(#bl2)"/>
<ellipse cx="257.7" cy="263.5" rx="3.8" ry="3.5" fill="#c8f028" opacity="0.8" filter="url(#bl1_3)"/>
<ellipse cx="268.3" cy="264.2" rx="3.5" ry="3.5" fill="#c8f028" opacity="0.8" filter="url(#bl1_3)"/>
<ellipse cx="277" cy="264.7" rx="3" ry="3" fill="#c8f028" opacity="0.7" filter="url(#bl1_3)"/>
<ellipse cx="286.6" cy="197" rx="3" ry="3" fill="#a0f040" opacity="0.5" filter="url(#bl1_5)"/>
</g>
<rect x="229.85" y="205.65" width="1.7" height="1.5" fill="#000"/>
<rect x="229.85" y="215.94" width="1.7" height="1.5" fill="#000"/>
<rect x="229.85" y="226.23" width="1.7" height="1.5" fill="#000"/>
<rect x="229.85" y="236.52" width="1.7" height="1.5" fill="#000"/>
<rect x="229.85" y="246.81" width="1.7" height="1.5" fill="#000"/>
<rect x="229.85" y="257.09" width="1.7" height="1.5" fill="#000"/>
<rect x="229.85" y="267.38" width="1.7" height="1.5" fill="#000"/>
<rect x="229.85" y="277.67" width="1.7" height="1.5" fill="#000"/>
<rect x="229.85" y="287.96" width="1.7" height="1.5" fill="#000"/>
<rect x="229.85" y="298.25" width="1.7" height="1.5" fill="#000"/>
<rect x="248.67" y="205.65" width="1.7" height="1.5" fill="#000"/>
<rect x="248.67" y="215.94" width="1.7" height="1.5" fill="#000"/>
<rect x="248.67" y="226.23" width="1.7" height="1.5" fill="#000"/>
<rect x="248.67" y="236.52" width="1.7" height="1.5" fill="#000"/>
<rect x="248.67" y="246.81" width="1.7" height="1.5" fill="#000"/>
<rect x="248.67" y="257.09" width="1.7" height="1.5" fill="#000"/>
<rect x="248.67" y="267.38" width="1.7" height="1.5" fill="#000"/>
<rect x="248.67" y="277.67" width="1.7" height="1.5" fill="#000"/>
<rect x="248.67" y="287.96" width="1.7" height="1.5" fill="#000"/>
<rect x="248.67" y="298.25" width="1.7" height="1.5" fill="#000"/>
<rect x="267.50" y="205.65" width="1.7" height="1.5" fill="#000"/>
<rect x="267.50" y="215.94" width="1.7" height="1.5" fill="#000"/>
<rect x="267.50" y="226.23" width="1.7" height="1.5" fill="#000"/>
<rect x="267.50" y="236.52" width="1.7" height="1.5" fill="#000"/>
<rect x="267.50" y="246.81" width="1.7" height="1.5" fill="#000"/>
<rect x="267.50" y="257.09" width="1.7" height="1.5" fill="#000"/>
<rect x="267.50" y="267.38" width="1.7" height="1.5" fill="#000"/>
<rect x="267.50" y="277.67" width="1.7" height="1.5" fill="#000"/>
<rect x="267.50" y="287.96" width="1.7" height="1.5" fill="#000"/>
<rect x="267.50" y="298.25" width="1.7" height="1.5" fill="#000"/>
<rect x="286.32" y="205.65" width="1.7" height="1.5" fill="#000"/>
<rect x="286.32" y="215.94" width="1.7" height="1.5" fill="#000"/>
<rect x="286.32" y="226.23" width="1.7" height="1.5" fill="#000"/>
<rect x="286.32" y="236.52" width="1.7" height="1.5" fill="#000"/>
<rect x="286.32" y="246.81" width="1.7" height="1.5" fill="#000"/>
<rect x="286.32" y="257.09" width="1.7" height="1.5" fill="#000"/>
<rect x="286.32" y="267.38" width="1.7" height="1.5" fill="#000"/>
<rect x="286.32" y="277.67" width="1.7" height="1.5" fill="#000"/>
<rect x="286.32" y="287.96" width="1.7" height="1.5" fill="#000"/>
<rect x="286.32" y="298.25" width="1.7" height="1.5" fill="#000"/>
<rect x="305.15" y="205.65" width="1.7" height="1.5" fill="#000"/>
<rect x="305.15" y="215.94" width="1.7" height="1.5" fill="#000"/>
<rect x="305.15" y="226.23" width="1.7" height="1.5" fill="#000"/>
<rect x="305.15" y="236.52" width="1.7" height="1.5" fill="#000"/>
<rect x="305.15" y="246.81" width="1.7" height="1.5" fill="#000"/>
<rect x="305.15" y="257.09" width="1.7" height="1.5" fill="#000"/>
<rect x="305.15" y="267.38" width="1.7" height="1.5" fill="#000"/>
<rect x="305.15" y="277.67" width="1.7" height="1.5" fill="#000"/>
<rect x="305.15" y="287.96" width="1.7" height="1.5" fill="#000"/>
<rect x="305.15" y="298.25" width="1.7" height="1.5" fill="#000"/>
<path d="M226.70,316.90V187.30H308.60" fill="none" stroke="#3f3a55" stroke-width="1.2"/>
<path d="M308.60,187.30V316.90" fill="none" stroke="#3f3a55" stroke-width="1.3"/>
<path d="M226.70,316.90H309.20" fill="none" stroke="#3f3a55" stroke-width="1.3"/>
<line x1="224.20" y1="315.32" x2="226.70" y2="315.32" stroke="#111" stroke-width="1"/>
<line x1="224.20" y1="302.88" x2="226.70" y2="302.88" stroke="#111" stroke-width="1"/>
<line x1="224.20" y1="290.44" x2="226.70" y2="290.44" stroke="#111" stroke-width="1"/>
<line x1="222.90" y1="278.00" x2="226.70" y2="278.00" stroke="#000" stroke-width="1.8"/>
<line x1="224.20" y1="265.56" x2="226.70" y2="265.56" stroke="#111" stroke-width="1"/>
<line x1="224.20" y1="253.12" x2="226.70" y2="253.12" stroke="#111" stroke-width="1"/>
<line x1="224.20" y1="240.68" x2="226.70" y2="240.68" stroke="#111" stroke-width="1"/>
<line x1="224.20" y1="228.24" x2="226.70" y2="228.24" stroke="#111" stroke-width="1"/>
<line x1="222.90" y1="215.80" x2="226.70" y2="215.80" stroke="#000" stroke-width="1.8"/>
<line x1="224.20" y1="203.36" x2="226.70" y2="203.36" stroke="#111" stroke-width="1"/>
<line x1="224.20" y1="190.92" x2="226.70" y2="190.92" stroke="#111" stroke-width="1"/>
<line x1="227.80" y1="316.90" x2="227.80" y2="319.40" stroke="#111" stroke-width="1"/>
<line x1="240.50" y1="316.90" x2="240.50" y2="320.70" stroke="#000" stroke-width="1.8"/>
<line x1="253.20" y1="316.90" x2="253.20" y2="319.40" stroke="#111" stroke-width="1"/>
<line x1="265.90" y1="316.90" x2="265.90" y2="319.40" stroke="#111" stroke-width="1"/>
<line x1="278.60" y1="316.90" x2="278.60" y2="320.70" stroke="#000" stroke-width="1.8"/>
<line x1="291.30" y1="316.90" x2="291.30" y2="319.40" stroke="#111" stroke-width="1"/>
<line x1="304.00" y1="316.90" x2="304.00" y2="319.40" stroke="#111" stroke-width="1"/>
<text x="220.20" y="219.20" text-anchor="end" class="t">8155</text>
<text x="220.20" y="281.40" text-anchor="end" class="t">8150</text>
<text transform="translate(196.50,245.00) rotate(-90)" x="0" y="0" text-anchor="middle" class="ax" textLength="46.7" lengthAdjust="spacingAndGlyphs">North [km]</text>
<text x="240.50" y="331.60" text-anchor="middle" class="xl">604</text>
<text x="278.60" y="331.60" text-anchor="middle" class="xl">607</text>
<text x="244.60" y="339.50" class="ax" textLength="41.7" lengthAdjust="spacingAndGlyphs">East [km]</text>
<text x="225.70" y="186.00" class="ti" textLength="24.9" lengthAdjust="spacingAndGlyphs">Offset</text>
<text x="253.40" y="186.60" class="ti" style="font-size:6.6px" textLength="4.2" lengthAdjust="spacingAndGlyphs">=</text>
<text x="260.40" y="186.00" class="ti" textLength="52.6" lengthAdjust="spacingAndGlyphs">3000 m, MC 42</text>
<text x="208.70" y="183.50" class="lt">e</text>
<rect x="331.20" y="188.00" width="3.30" height="127.00" fill="url(#cbg)"/>
<line x1="334.50" y1="188.00" x2="339.50" y2="188.00" stroke="#000" stroke-width="1.6"/>
<text x="340.80" y="188.40" class="cl">1.3</text>
<line x1="335.30" y1="208.50" x2="340.30" y2="208.50" stroke="#000" stroke-width="1.6"/>
<text x="342.30" y="211.60" class="cl">1.2</text>
<line x1="335.30" y1="230.30" x2="340.30" y2="230.30" stroke="#000" stroke-width="1.6"/>
<text x="342.30" y="233.40" class="cl">1.1</text>
<line x1="335.30" y1="251.20" x2="340.30" y2="251.20" stroke="#000" stroke-width="1.6"/>
<text x="342.30" y="254.30" class="cl">1</text>
<line x1="335.30" y1="272.20" x2="340.30" y2="272.20" stroke="#000" stroke-width="1.6"/>
<text x="341.30" y="275.30" class="cl">0.9</text>
<line x1="335.30" y1="294.30" x2="340.30" y2="294.30" stroke="#000" stroke-width="1.6"/>
<text x="343.70" y="297.60" class="cl">0.8</text>
<line x1="335.30" y1="315.50" x2="340.30" y2="315.50" stroke="#000" stroke-width="1.6"/>
<text x="343.40" y="318.50" class="cl">0.7</text>
<rect x="412.80" y="187.70" width="80.70" height="128.90" fill="#02f404"/>
<g clip-path="url(#clipf)">
<ellipse cx="465" cy="234.5" rx="27" ry="22.5" fill="#12c0a0" opacity="0.85" filter="url(#bl4_5)"/>
<ellipse cx="463" cy="253" rx="8" ry="8" fill="#10c0a0" opacity="0.5" filter="url(#bl3)"/>
<ellipse cx="468" cy="234.5" rx="19" ry="16.5" fill="#1e8ce0" opacity="0.75" filter="url(#bl4)"/>
<ellipse cx="471" cy="235.7" rx="12.6" ry="8" fill="#0a3cf0" opacity="0.95" filter="url(#bl2_3)"/>
<ellipse cx="476" cy="236.5" rx="6.5" ry="10.5" fill="#0a3cf0" opacity="0.8" filter="url(#bl2_2)"/>
<ellipse cx="443.2" cy="261.3" rx="3.5" ry="3.5" fill="#c8f028" opacity="0.7" filter="url(#bl1_3)"/>
<ellipse cx="452.6" cy="263" rx="3" ry="3" fill="#c8f028" opacity="0.6" filter="url(#bl1_3)"/>
<ellipse cx="462.8" cy="263" rx="2" ry="2" fill="#c0f020" opacity="0.4" filter="url(#bl1_2)"/>
<ellipse cx="472" cy="197" rx="3.5" ry="3" fill="#a0f040" opacity="0.5" filter="url(#bl1_5)"/>
<ellipse cx="418" cy="195" rx="10" ry="8" fill="#10d878" opacity="0.4" filter="url(#bl4)"/>
</g>
<rect x="414.85" y="204.25" width="1.7" height="1.5" fill="#000"/>
<rect x="414.85" y="214.61" width="1.7" height="1.5" fill="#000"/>
<rect x="414.85" y="224.96" width="1.7" height="1.5" fill="#000"/>
<rect x="414.85" y="235.32" width="1.7" height="1.5" fill="#000"/>
<rect x="414.85" y="245.67" width="1.7" height="1.5" fill="#000"/>
<rect x="414.85" y="256.03" width="1.7" height="1.5" fill="#000"/>
<rect x="414.85" y="266.38" width="1.7" height="1.5" fill="#000"/>
<rect x="414.85" y="276.74" width="1.7" height="1.5" fill="#000"/>
<rect x="414.85" y="287.09" width="1.7" height="1.5" fill="#000"/>
<rect x="414.85" y="297.45" width="1.7" height="1.5" fill="#000"/>
<rect x="433.72" y="204.25" width="1.7" height="1.5" fill="#000"/>
<rect x="433.72" y="214.61" width="1.7" height="1.5" fill="#000"/>
<rect x="433.72" y="224.96" width="1.7" height="1.5" fill="#000"/>
<rect x="433.72" y="235.32" width="1.7" height="1.5" fill="#000"/>
<rect x="433.72" y="245.67" width="1.7" height="1.5" fill="#000"/>
<rect x="433.72" y="256.03" width="1.7" height="1.5" fill="#000"/>
<rect x="433.72" y="266.38" width="1.7" height="1.5" fill="#000"/>
<rect x="433.72" y="276.74" width="1.7" height="1.5" fill="#000"/>
<rect x="433.72" y="287.09" width="1.7" height="1.5" fill="#000"/>
<rect x="433.72" y="297.45" width="1.7" height="1.5" fill="#000"/>
<rect x="452.60" y="204.25" width="1.7" height="1.5" fill="#000"/>
<rect x="452.60" y="214.61" width="1.7" height="1.5" fill="#000"/>
<rect x="452.60" y="224.96" width="1.7" height="1.5" fill="#000"/>
<rect x="452.60" y="235.32" width="1.7" height="1.5" fill="#000"/>
<rect x="452.60" y="245.67" width="1.7" height="1.5" fill="#000"/>
<rect x="452.60" y="256.03" width="1.7" height="1.5" fill="#000"/>
<rect x="452.60" y="266.38" width="1.7" height="1.5" fill="#000"/>
<rect x="452.60" y="276.74" width="1.7" height="1.5" fill="#000"/>
<rect x="452.60" y="287.09" width="1.7" height="1.5" fill="#000"/>
<rect x="452.60" y="297.45" width="1.7" height="1.5" fill="#000"/>
<rect x="471.47" y="204.25" width="1.7" height="1.5" fill="#000"/>
<rect x="471.47" y="214.61" width="1.7" height="1.5" fill="#000"/>
<rect x="471.47" y="224.96" width="1.7" height="1.5" fill="#000"/>
<rect x="471.47" y="235.32" width="1.7" height="1.5" fill="#000"/>
<rect x="471.47" y="245.67" width="1.7" height="1.5" fill="#000"/>
<rect x="471.47" y="256.03" width="1.7" height="1.5" fill="#000"/>
<rect x="471.47" y="266.38" width="1.7" height="1.5" fill="#000"/>
<rect x="471.47" y="276.74" width="1.7" height="1.5" fill="#000"/>
<rect x="471.47" y="287.09" width="1.7" height="1.5" fill="#000"/>
<rect x="471.47" y="297.45" width="1.7" height="1.5" fill="#000"/>
<rect x="490.35" y="204.25" width="1.7" height="1.5" fill="#000"/>
<rect x="490.35" y="214.61" width="1.7" height="1.5" fill="#000"/>
<rect x="490.35" y="224.96" width="1.7" height="1.5" fill="#000"/>
<rect x="490.35" y="235.32" width="1.7" height="1.5" fill="#000"/>
<rect x="490.35" y="245.67" width="1.7" height="1.5" fill="#000"/>
<rect x="490.35" y="256.03" width="1.7" height="1.5" fill="#000"/>
<rect x="490.35" y="266.38" width="1.7" height="1.5" fill="#000"/>
<rect x="490.35" y="276.74" width="1.7" height="1.5" fill="#000"/>
<rect x="490.35" y="287.09" width="1.7" height="1.5" fill="#000"/>
<rect x="490.35" y="297.45" width="1.7" height="1.5" fill="#000"/>
<path d="M412.30,317.10V187.20H494.00" fill="none" stroke="#3f3a55" stroke-width="1.2"/>
<path d="M494.00,187.20V317.10" fill="none" stroke="#8a8595" stroke-width="1.3"/>
<path d="M412.30,317.10H494.60" fill="none" stroke="#8a8595" stroke-width="1.3"/>
<line x1="409.80" y1="314.36" x2="412.30" y2="314.36" stroke="#111" stroke-width="1"/>
<line x1="409.80" y1="301.94" x2="412.30" y2="301.94" stroke="#111" stroke-width="1"/>
<line x1="409.80" y1="289.52" x2="412.30" y2="289.52" stroke="#111" stroke-width="1"/>
<line x1="408.50" y1="277.10" x2="412.30" y2="277.10" stroke="#000" stroke-width="1.8"/>
<line x1="409.80" y1="264.68" x2="412.30" y2="264.68" stroke="#111" stroke-width="1"/>
<line x1="409.80" y1="252.26" x2="412.30" y2="252.26" stroke="#111" stroke-width="1"/>
<line x1="409.80" y1="239.84" x2="412.30" y2="239.84" stroke="#111" stroke-width="1"/>
<line x1="409.80" y1="227.42" x2="412.30" y2="227.42" stroke="#111" stroke-width="1"/>
<line x1="408.50" y1="215.00" x2="412.30" y2="215.00" stroke="#000" stroke-width="1.8"/>
<line x1="409.80" y1="202.58" x2="412.30" y2="202.58" stroke="#111" stroke-width="1"/>
<line x1="409.80" y1="190.16" x2="412.30" y2="190.16" stroke="#111" stroke-width="1"/>
<line x1="412.67" y1="317.10" x2="412.67" y2="319.60" stroke="#111" stroke-width="1"/>
<line x1="425.50" y1="317.10" x2="425.50" y2="320.90" stroke="#000" stroke-width="1.8"/>
<line x1="438.33" y1="317.10" x2="438.33" y2="319.60" stroke="#111" stroke-width="1"/>
<line x1="451.16" y1="317.10" x2="451.16" y2="319.60" stroke="#111" stroke-width="1"/>
<line x1="463.99" y1="317.10" x2="463.99" y2="320.90" stroke="#000" stroke-width="1.8"/>
<line x1="476.82" y1="317.10" x2="476.82" y2="319.60" stroke="#111" stroke-width="1"/>
<line x1="489.65" y1="317.10" x2="489.65" y2="319.60" stroke="#111" stroke-width="1"/>
<text x="405.70" y="218.40" text-anchor="end" class="t">8155</text>
<text x="405.50" y="280.50" text-anchor="end" class="t">8150</text>
<text transform="translate(382.50,244.00) rotate(-90)" x="0" y="0" text-anchor="middle" class="ax" textLength="46.7" lengthAdjust="spacingAndGlyphs">North [km]</text>
<text x="425.50" y="330.70" text-anchor="middle" class="xl">604</text>
<text x="463.99" y="330.70" text-anchor="middle" class="xl">607</text>
<text x="430.50" y="338.90" class="ax" textLength="41.2" lengthAdjust="spacingAndGlyphs">East [km]</text>
<text x="413.00" y="185.90" class="ti" textLength="24.9" lengthAdjust="spacingAndGlyphs">Offset</text>
<text x="440.70" y="186.50" class="ti" style="font-size:6.6px" textLength="4.2" lengthAdjust="spacingAndGlyphs">=</text>
<text x="447.70" y="185.90" class="ti" textLength="52.6" lengthAdjust="spacingAndGlyphs">3000 m, MC 57</text>
<text x="399.30" y="183.80" class="lt">f</text>
<rect x="513.10" y="189.60" width="3.30" height="126.90" fill="url(#cbg)"/>
<line x1="516.40" y1="189.60" x2="521.40" y2="189.60" stroke="#000" stroke-width="1.6"/>
<text x="522.60" y="190.00" class="cl">1.3</text>
<line x1="517.20" y1="210.50" x2="522.20" y2="210.50" stroke="#000" stroke-width="1.6"/>
<text x="524.10" y="213.60" class="cl">1.2</text>
<line x1="517.20" y1="232.20" x2="522.20" y2="232.20" stroke="#000" stroke-width="1.6"/>
<text x="524.10" y="235.30" class="cl">1.1</text>
<line x1="517.20" y1="253.20" x2="522.20" y2="253.20" stroke="#000" stroke-width="1.6"/>
<text x="524.10" y="256.30" class="cl">1</text>
<line x1="517.20" y1="275.00" x2="522.20" y2="275.00" stroke="#000" stroke-width="1.6"/>
<text x="523.10" y="278.10" class="cl">0.9</text>
<line x1="517.20" y1="296.80" x2="522.20" y2="296.80" stroke="#000" stroke-width="1.6"/>
<text x="525.30" y="300.10" class="cl">0.8</text>
<line x1="517.20" y1="316.50" x2="522.20" y2="316.50" stroke="#000" stroke-width="1.6"/>
<text x="526.00" y="320.80" class="cl">0.7</text>
<rect x="43.50" y="355.90" width="78.60" height="149.90" fill="#02f404"/>
<g clip-path="url(#clipg)">
<ellipse cx="91" cy="414" rx="18" ry="22" fill="#18d0a0" opacity="0.55" filter="url(#bl4)"/>
<ellipse cx="93.5" cy="412" rx="8" ry="10" fill="#10c0a8" opacity="0.3" filter="url(#bl3)"/>
<ellipse cx="80" cy="453.5" rx="12" ry="1.2" fill="#c8f020" opacity="0.5" filter="url(#bl1)"/>
<ellipse cx="92" cy="453.5" rx="3" ry="2" fill="#c8f020" opacity="0.5" filter="url(#bl1)"/>
</g>
<rect x="45.95" y="383.25" width="1.7" height="1.5" fill="#000"/>
<rect x="45.95" y="393.58" width="1.7" height="1.5" fill="#000"/>
<rect x="45.95" y="403.92" width="1.7" height="1.5" fill="#000"/>
<rect x="45.95" y="414.25" width="1.7" height="1.5" fill="#000"/>
<rect x="45.95" y="424.58" width="1.7" height="1.5" fill="#000"/>
<rect x="45.95" y="434.92" width="1.7" height="1.5" fill="#000"/>
<rect x="45.95" y="445.25" width="1.7" height="1.5" fill="#000"/>
<rect x="45.95" y="455.58" width="1.7" height="1.5" fill="#000"/>
<rect x="45.95" y="465.92" width="1.7" height="1.5" fill="#000"/>
<rect x="45.95" y="476.25" width="1.7" height="1.5" fill="#000"/>
<rect x="64.25" y="383.25" width="1.7" height="1.5" fill="#000"/>
<rect x="64.25" y="393.58" width="1.7" height="1.5" fill="#000"/>
<rect x="64.25" y="403.92" width="1.7" height="1.5" fill="#000"/>
<rect x="64.25" y="414.25" width="1.7" height="1.5" fill="#000"/>
<rect x="64.25" y="424.58" width="1.7" height="1.5" fill="#000"/>
<rect x="64.25" y="434.92" width="1.7" height="1.5" fill="#000"/>
<rect x="64.25" y="445.25" width="1.7" height="1.5" fill="#000"/>
<rect x="64.25" y="455.58" width="1.7" height="1.5" fill="#000"/>
<rect x="64.25" y="465.92" width="1.7" height="1.5" fill="#000"/>
<rect x="64.25" y="476.25" width="1.7" height="1.5" fill="#000"/>
<rect x="82.55" y="383.25" width="1.7" height="1.5" fill="#000"/>
<rect x="82.55" y="393.58" width="1.7" height="1.5" fill="#000"/>
<rect x="82.55" y="403.92" width="1.7" height="1.5" fill="#000"/>
<rect x="82.55" y="414.25" width="1.7" height="1.5" fill="#000"/>
<rect x="82.55" y="424.58" width="1.7" height="1.5" fill="#000"/>
<rect x="82.55" y="434.92" width="1.7" height="1.5" fill="#000"/>
<rect x="82.55" y="445.25" width="1.7" height="1.5" fill="#000"/>
<rect x="82.55" y="455.58" width="1.7" height="1.5" fill="#000"/>
<rect x="82.55" y="465.92" width="1.7" height="1.5" fill="#000"/>
<rect x="82.55" y="476.25" width="1.7" height="1.5" fill="#000"/>
<rect x="100.85" y="383.25" width="1.7" height="1.5" fill="#000"/>
<rect x="100.85" y="393.58" width="1.7" height="1.5" fill="#000"/>
<rect x="100.85" y="403.92" width="1.7" height="1.5" fill="#000"/>
<rect x="100.85" y="414.25" width="1.7" height="1.5" fill="#000"/>
<rect x="100.85" y="424.58" width="1.7" height="1.5" fill="#000"/>
<rect x="100.85" y="434.92" width="1.7" height="1.5" fill="#000"/>
<rect x="100.85" y="445.25" width="1.7" height="1.5" fill="#000"/>
<rect x="100.85" y="455.58" width="1.7" height="1.5" fill="#000"/>
<rect x="100.85" y="465.92" width="1.7" height="1.5" fill="#000"/>
<rect x="100.85" y="476.25" width="1.7" height="1.5" fill="#000"/>
<rect x="119.15" y="383.25" width="1.7" height="1.5" fill="#000"/>
<rect x="119.15" y="393.58" width="1.7" height="1.5" fill="#000"/>
<rect x="119.15" y="403.92" width="1.7" height="1.5" fill="#000"/>
<rect x="119.15" y="414.25" width="1.7" height="1.5" fill="#000"/>
<rect x="119.15" y="424.58" width="1.7" height="1.5" fill="#000"/>
<rect x="119.15" y="434.92" width="1.7" height="1.5" fill="#000"/>
<rect x="119.15" y="445.25" width="1.7" height="1.5" fill="#000"/>
<rect x="119.15" y="455.58" width="1.7" height="1.5" fill="#000"/>
<rect x="119.15" y="465.92" width="1.7" height="1.5" fill="#000"/>
<rect x="119.15" y="476.25" width="1.7" height="1.5" fill="#000"/>
<path d="M43.00,506.30V355.40H122.60" fill="none" stroke="#3f3a55" stroke-width="1.2"/>
<path d="M122.60,355.40V506.30" fill="none" stroke="#3f3a55" stroke-width="1.3"/>
<path d="M43.00,506.30H123.20" fill="none" stroke="#3f3a55" stroke-width="1.3"/>
<line x1="40.50" y1="505.00" x2="43.00" y2="505.00" stroke="#111" stroke-width="1"/>
<line x1="40.50" y1="494.58" x2="43.00" y2="494.58" stroke="#111" stroke-width="1"/>
<line x1="40.50" y1="484.16" x2="43.00" y2="484.16" stroke="#111" stroke-width="1"/>
<line x1="40.50" y1="473.74" x2="43.00" y2="473.74" stroke="#111" stroke-width="1"/>
<line x1="40.50" y1="463.32" x2="43.00" y2="463.32" stroke="#111" stroke-width="1"/>
<line x1="40.20" y1="452.90" x2="43.00" y2="452.90" stroke="#000" stroke-width="1.8"/>
<line x1="40.50" y1="442.48" x2="43.00" y2="442.48" stroke="#111" stroke-width="1"/>
<line x1="40.50" y1="432.06" x2="43.00" y2="432.06" stroke="#111" stroke-width="1"/>
<line x1="40.50" y1="421.64" x2="43.00" y2="421.64" stroke="#111" stroke-width="1"/>
<line x1="40.50" y1="411.22" x2="43.00" y2="411.22" stroke="#111" stroke-width="1"/>
<line x1="40.20" y1="400.80" x2="43.00" y2="400.80" stroke="#000" stroke-width="1.8"/>
<line x1="40.50" y1="390.38" x2="43.00" y2="390.38" stroke="#111" stroke-width="1"/>
<line x1="40.50" y1="379.96" x2="43.00" y2="379.96" stroke="#111" stroke-width="1"/>
<line x1="40.50" y1="369.54" x2="43.00" y2="369.54" stroke="#111" stroke-width="1"/>
<line x1="40.50" y1="359.12" x2="43.00" y2="359.12" stroke="#111" stroke-width="1"/>
<line x1="44.37" y1="506.30" x2="44.37" y2="508.80" stroke="#111" stroke-width="1"/>
<line x1="57.20" y1="506.30" x2="57.20" y2="510.10" stroke="#000" stroke-width="1.8"/>
<line x1="70.03" y1="506.30" x2="70.03" y2="508.80" stroke="#111" stroke-width="1"/>
<line x1="82.86" y1="506.30" x2="82.86" y2="508.80" stroke="#111" stroke-width="1"/>
<line x1="95.69" y1="506.30" x2="95.69" y2="510.10" stroke="#000" stroke-width="1.8"/>
<line x1="108.52" y1="506.30" x2="108.52" y2="508.80" stroke="#111" stroke-width="1"/>
<line x1="121.35" y1="506.30" x2="121.35" y2="508.80" stroke="#111" stroke-width="1"/>
<text x="38.50" y="404.20" text-anchor="end" class="t">8155</text>
<text x="38.50" y="456.30" text-anchor="end" class="t">8150</text>
<text transform="translate(13.90,420.40) rotate(-90)" x="0" y="0" text-anchor="middle" class="ax" textLength="46.7" lengthAdjust="spacingAndGlyphs">North [km]</text>
<text x="57.20" y="519.80" text-anchor="middle" class="xl">604</text>
<text x="95.69" y="519.80" text-anchor="middle" class="xl">607</text>
<text x="60.80" y="528.50" class="ax" textLength="41.0" lengthAdjust="spacingAndGlyphs">East [km]</text>
<text x="43.50" y="353.80" class="ti" textLength="24.9" lengthAdjust="spacingAndGlyphs">Offset</text>
<text x="71.20" y="354.40" class="ti" style="font-size:6.6px" textLength="4.2" lengthAdjust="spacingAndGlyphs">=</text>
<text x="78.20" y="353.80" class="ti" textLength="53.0" lengthAdjust="spacingAndGlyphs">5000 m, MC 32</text>
<text x="22.80" y="348.30" class="lt">g</text>
<rect x="146.60" y="371.20" width="3.30" height="126.30" fill="url(#cbg)"/>
<line x1="149.90" y1="371.20" x2="154.90" y2="371.20" stroke="#000" stroke-width="1.6"/>
<text x="156.50" y="371.60" class="cl">1.3</text>
<line x1="150.70" y1="392.00" x2="155.70" y2="392.00" stroke="#000" stroke-width="1.6"/>
<text x="157.60" y="395.10" class="cl">1.2</text>
<line x1="150.70" y1="413.70" x2="155.70" y2="413.70" stroke="#000" stroke-width="1.6"/>
<text x="157.60" y="416.80" class="cl">1.1</text>
<line x1="150.70" y1="434.60" x2="155.70" y2="434.60" stroke="#000" stroke-width="1.6"/>
<text x="157.60" y="437.70" class="cl">1</text>
<line x1="150.70" y1="455.50" x2="155.70" y2="455.50" stroke="#000" stroke-width="1.6"/>
<text x="156.60" y="458.60" class="cl">0.9</text>
<line x1="150.70" y1="477.90" x2="155.70" y2="477.90" stroke="#000" stroke-width="1.6"/>
<text x="158.60" y="481.20" class="cl">0.8</text>
<line x1="150.70" y1="498.00" x2="155.70" y2="498.00" stroke="#000" stroke-width="1.6"/>
<text x="158.30" y="501.30" class="cl">0.7</text>
<line x1="65.2" y1="359.4" x2="65.2" y2="377.4" stroke="#f03000" stroke-width="1.2"/>
<polygon points="62.650000000000006,359.9 67.75,359.9 65.2,354.9" fill="#ff1010"/>
<polygon points="62.650000000000006,376.9 67.75,376.9 65.2,381.9" fill="#ff1010"/>
<line x1="102.5" y1="360.7" x2="102.5" y2="377.7" stroke="#f03000" stroke-width="1.2"/>
<polygon points="99.95,361.2 105.05,361.2 102.5,356.2" fill="#ff1010"/>
<polygon points="99.95,377.2 105.05,377.2 102.5,382.2" fill="#ff1010"/>
<rect x="227.70" y="356.00" width="78.90" height="149.60" fill="#02f404"/>
<g clip-path="url(#cliph)">
<ellipse cx="281" cy="411" rx="21" ry="26" fill="#12c4a0" opacity="0.85" filter="url(#bl3_5)"/>
<ellipse cx="281" cy="415" rx="9" ry="14" fill="#1896c8" opacity="0.8" filter="url(#bl3)"/>
<ellipse cx="256.7" cy="452.5" rx="3" ry="2.5" fill="#c8f028" opacity="0.7" filter="url(#bl1_2)"/>
<ellipse cx="266.8" cy="452.5" rx="3" ry="2.5" fill="#c8f028" opacity="0.7" filter="url(#bl1_2)"/>
<ellipse cx="276" cy="452.5" rx="2" ry="2" fill="#c0f020" opacity="0.4" filter="url(#bl1_2)"/>
<ellipse cx="262" cy="452.5" rx="10" ry="1" fill="#c8f028" opacity="0.4" filter="url(#bl0_8)"/>
<ellipse cx="286" cy="366.4" rx="3" ry="3" fill="#a0f040" opacity="0.5" filter="url(#bl1_5)"/>
</g>
<rect x="228.95" y="383.75" width="1.7" height="1.5" fill="#000"/>
<rect x="228.95" y="394.08" width="1.7" height="1.5" fill="#000"/>
<rect x="228.95" y="404.42" width="1.7" height="1.5" fill="#000"/>
<rect x="228.95" y="414.75" width="1.7" height="1.5" fill="#000"/>
<rect x="228.95" y="425.08" width="1.7" height="1.5" fill="#000"/>
<rect x="228.95" y="435.42" width="1.7" height="1.5" fill="#000"/>
<rect x="228.95" y="445.75" width="1.7" height="1.5" fill="#000"/>
<rect x="228.95" y="456.08" width="1.7" height="1.5" fill="#000"/>
<rect x="228.95" y="466.42" width="1.7" height="1.5" fill="#000"/>
<rect x="228.95" y="476.75" width="1.7" height="1.5" fill="#000"/>
<rect x="247.93" y="383.75" width="1.7" height="1.5" fill="#000"/>
<rect x="247.93" y="394.08" width="1.7" height="1.5" fill="#000"/>
<rect x="247.93" y="404.42" width="1.7" height="1.5" fill="#000"/>
<rect x="247.93" y="414.75" width="1.7" height="1.5" fill="#000"/>
<rect x="247.93" y="425.08" width="1.7" height="1.5" fill="#000"/>
<rect x="247.93" y="435.42" width="1.7" height="1.5" fill="#000"/>
<rect x="247.93" y="445.75" width="1.7" height="1.5" fill="#000"/>
<rect x="247.93" y="456.08" width="1.7" height="1.5" fill="#000"/>
<rect x="247.93" y="466.42" width="1.7" height="1.5" fill="#000"/>
<rect x="247.93" y="476.75" width="1.7" height="1.5" fill="#000"/>
<rect x="266.90" y="383.75" width="1.7" height="1.5" fill="#000"/>
<rect x="266.90" y="394.08" width="1.7" height="1.5" fill="#000"/>
<rect x="266.90" y="404.42" width="1.7" height="1.5" fill="#000"/>
<rect x="266.90" y="414.75" width="1.7" height="1.5" fill="#000"/>
<rect x="266.90" y="425.08" width="1.7" height="1.5" fill="#000"/>
<rect x="266.90" y="435.42" width="1.7" height="1.5" fill="#000"/>
<rect x="266.90" y="445.75" width="1.7" height="1.5" fill="#000"/>
<rect x="266.90" y="456.08" width="1.7" height="1.5" fill="#000"/>
<rect x="266.90" y="466.42" width="1.7" height="1.5" fill="#000"/>
<rect x="266.90" y="476.75" width="1.7" height="1.5" fill="#000"/>
<rect x="285.88" y="383.75" width="1.7" height="1.5" fill="#000"/>
<rect x="285.88" y="394.08" width="1.7" height="1.5" fill="#000"/>
<rect x="285.88" y="404.42" width="1.7" height="1.5" fill="#000"/>
<rect x="285.88" y="414.75" width="1.7" height="1.5" fill="#000"/>
<rect x="285.88" y="425.08" width="1.7" height="1.5" fill="#000"/>
<rect x="285.88" y="435.42" width="1.7" height="1.5" fill="#000"/>
<rect x="285.88" y="445.75" width="1.7" height="1.5" fill="#000"/>
<rect x="285.88" y="456.08" width="1.7" height="1.5" fill="#000"/>
<rect x="285.88" y="466.42" width="1.7" height="1.5" fill="#000"/>
<rect x="285.88" y="476.75" width="1.7" height="1.5" fill="#000"/>
<rect x="304.85" y="383.75" width="1.7" height="1.5" fill="#000"/>
<rect x="304.85" y="394.08" width="1.7" height="1.5" fill="#000"/>
<rect x="304.85" y="404.42" width="1.7" height="1.5" fill="#000"/>
<rect x="304.85" y="414.75" width="1.7" height="1.5" fill="#000"/>
<rect x="304.85" y="425.08" width="1.7" height="1.5" fill="#000"/>
<rect x="304.85" y="435.42" width="1.7" height="1.5" fill="#000"/>
<rect x="304.85" y="445.75" width="1.7" height="1.5" fill="#000"/>
<rect x="304.85" y="456.08" width="1.7" height="1.5" fill="#000"/>
<rect x="304.85" y="466.42" width="1.7" height="1.5" fill="#000"/>
<rect x="304.85" y="476.75" width="1.7" height="1.5" fill="#000"/>
<path d="M227.20,506.10V355.50H307.10" fill="none" stroke="#3f3a55" stroke-width="1.2"/>
<path d="M307.10,355.50V506.10" fill="none" stroke="#3f3a55" stroke-width="1.3"/>
<path d="M227.20,506.10H307.70" fill="none" stroke="#3f3a55" stroke-width="1.3"/>
<line x1="224.70" y1="504.90" x2="227.20" y2="504.90" stroke="#111" stroke-width="1"/>
<line x1="224.70" y1="494.50" x2="227.20" y2="494.50" stroke="#111" stroke-width="1"/>
<line x1="224.70" y1="484.10" x2="227.20" y2="484.10" stroke="#111" stroke-width="1"/>
<line x1="224.70" y1="473.70" x2="227.20" y2="473.70" stroke="#111" stroke-width="1"/>
<line x1="224.70" y1="463.30" x2="227.20" y2="463.30" stroke="#111" stroke-width="1"/>
<line x1="223.40" y1="452.90" x2="227.20" y2="452.90" stroke="#000" stroke-width="1.8"/>
<line x1="224.70" y1="442.50" x2="227.20" y2="442.50" stroke="#111" stroke-width="1"/>
<line x1="224.70" y1="432.10" x2="227.20" y2="432.10" stroke="#111" stroke-width="1"/>
<line x1="224.70" y1="421.70" x2="227.20" y2="421.70" stroke="#111" stroke-width="1"/>
<line x1="224.70" y1="411.30" x2="227.20" y2="411.30" stroke="#111" stroke-width="1"/>
<line x1="223.40" y1="400.90" x2="227.20" y2="400.90" stroke="#000" stroke-width="1.8"/>
<line x1="224.70" y1="390.50" x2="227.20" y2="390.50" stroke="#111" stroke-width="1"/>
<line x1="224.70" y1="380.10" x2="227.20" y2="380.10" stroke="#111" stroke-width="1"/>
<line x1="224.70" y1="369.70" x2="227.20" y2="369.70" stroke="#111" stroke-width="1"/>
<line x1="224.70" y1="359.30" x2="227.20" y2="359.30" stroke="#111" stroke-width="1"/>
<line x1="229.57" y1="506.10" x2="229.57" y2="508.60" stroke="#111" stroke-width="1"/>
<line x1="242.30" y1="506.10" x2="242.30" y2="509.90" stroke="#000" stroke-width="1.8"/>
<line x1="255.03" y1="506.10" x2="255.03" y2="508.60" stroke="#111" stroke-width="1"/>
<line x1="267.76" y1="506.10" x2="267.76" y2="508.60" stroke="#111" stroke-width="1"/>
<line x1="280.49" y1="506.10" x2="280.49" y2="509.90" stroke="#000" stroke-width="1.8"/>
<line x1="293.22" y1="506.10" x2="293.22" y2="508.60" stroke="#111" stroke-width="1"/>
<line x1="305.95" y1="506.10" x2="305.95" y2="508.60" stroke="#111" stroke-width="1"/>
<text x="221.40" y="404.30" text-anchor="end" class="t">8155</text>
<text x="222.50" y="456.30" text-anchor="end" class="t">8150</text>
<text transform="translate(197.00,420.90) rotate(-90)" x="0" y="0" text-anchor="middle" class="ax" textLength="46.7" lengthAdjust="spacingAndGlyphs">North [km]</text>
<text x="242.30" y="520.30" text-anchor="middle" class="xl">604</text>
<text x="280.49" y="520.30" text-anchor="middle" class="xl">607</text>
<text x="247.00" y="528.60" class="ax" textLength="41.1" lengthAdjust="spacingAndGlyphs">East [km]</text>
<text x="227.90" y="353.80" class="ti" textLength="24.9" lengthAdjust="spacingAndGlyphs">Offset</text>
<text x="255.60" y="354.40" class="ti" style="font-size:6.6px" textLength="4.2" lengthAdjust="spacingAndGlyphs">=</text>
<text x="262.60" y="353.80" class="ti" textLength="53.2" lengthAdjust="spacingAndGlyphs">5000 m, MC 42</text>
<text x="209.00" y="348.70" class="lt">h</text>
<rect x="332.90" y="372.30" width="3.20" height="126.70" fill="url(#cbg)"/>
<line x1="336.10" y1="372.40" x2="341.10" y2="372.40" stroke="#000" stroke-width="1.6"/>
<text x="342.60" y="372.80" class="cl">1.3</text>
<line x1="336.90" y1="392.80" x2="341.90" y2="392.80" stroke="#000" stroke-width="1.6"/>
<text x="343.90" y="395.90" class="cl">1.2</text>
<line x1="336.90" y1="414.20" x2="341.90" y2="414.20" stroke="#000" stroke-width="1.6"/>
<text x="343.90" y="417.30" class="cl">1.1</text>
<line x1="336.90" y1="435.40" x2="341.90" y2="435.40" stroke="#000" stroke-width="1.6"/>
<text x="343.90" y="438.50" class="cl">1</text>
<line x1="336.90" y1="456.40" x2="341.90" y2="456.40" stroke="#000" stroke-width="1.6"/>
<text x="342.90" y="459.50" class="cl">0.9</text>
<line x1="336.90" y1="478.70" x2="341.90" y2="478.70" stroke="#000" stroke-width="1.6"/>
<text x="345.40" y="482.00" class="cl">0.8</text>
<line x1="336.90" y1="499.50" x2="341.90" y2="499.50" stroke="#000" stroke-width="1.6"/>
<text x="345.70" y="502.10" class="cl">0.7</text>
<rect x="416.00" y="356.70" width="78.10" height="149.60" fill="#02f404"/>
<g clip-path="url(#clipi)">
<ellipse cx="465" cy="412" rx="20" ry="27" fill="#12c4a0" opacity="0.85" filter="url(#bl3_5)"/>
<ellipse cx="472" cy="392" rx="5" ry="8" fill="#12c4a0" opacity="0.4" filter="url(#bl2_5)"/>
<ellipse cx="469" cy="419" rx="9" ry="14" fill="#1880d8" opacity="0.85" filter="url(#bl3)"/>
<ellipse cx="449" cy="453" rx="7" ry="1" fill="#c8f028" opacity="0.6" filter="url(#bl0_8)"/>
<ellipse cx="454.2" cy="453" rx="2.5" ry="1.8" fill="#c8f028" opacity="0.6" filter="url(#bl1)"/>
<ellipse cx="472.6" cy="365.4" rx="3.5" ry="3" fill="#a0f040" opacity="0.5" filter="url(#bl1_5)"/>
</g>
<rect x="417.85" y="384.45" width="1.7" height="1.5" fill="#000"/>
<rect x="417.85" y="394.72" width="1.7" height="1.5" fill="#000"/>
<rect x="417.85" y="404.98" width="1.7" height="1.5" fill="#000"/>
<rect x="417.85" y="415.25" width="1.7" height="1.5" fill="#000"/>
<rect x="417.85" y="425.52" width="1.7" height="1.5" fill="#000"/>
<rect x="417.85" y="435.78" width="1.7" height="1.5" fill="#000"/>
<rect x="417.85" y="446.05" width="1.7" height="1.5" fill="#000"/>
<rect x="417.85" y="456.32" width="1.7" height="1.5" fill="#000"/>
<rect x="417.85" y="466.58" width="1.7" height="1.5" fill="#000"/>
<rect x="417.85" y="476.85" width="1.7" height="1.5" fill="#000"/>
<rect x="436.22" y="384.45" width="1.7" height="1.5" fill="#000"/>
<rect x="436.22" y="394.72" width="1.7" height="1.5" fill="#000"/>
<rect x="436.22" y="404.98" width="1.7" height="1.5" fill="#000"/>
<rect x="436.22" y="415.25" width="1.7" height="1.5" fill="#000"/>
<rect x="436.22" y="425.52" width="1.7" height="1.5" fill="#000"/>
<rect x="436.22" y="435.78" width="1.7" height="1.5" fill="#000"/>
<rect x="436.22" y="446.05" width="1.7" height="1.5" fill="#000"/>
<rect x="436.22" y="456.32" width="1.7" height="1.5" fill="#000"/>
<rect x="436.22" y="466.58" width="1.7" height="1.5" fill="#000"/>
<rect x="436.22" y="476.85" width="1.7" height="1.5" fill="#000"/>
<rect x="454.60" y="384.45" width="1.7" height="1.5" fill="#000"/>
<rect x="454.60" y="394.72" width="1.7" height="1.5" fill="#000"/>
<rect x="454.60" y="404.98" width="1.7" height="1.5" fill="#000"/>
<rect x="454.60" y="415.25" width="1.7" height="1.5" fill="#000"/>
<rect x="454.60" y="425.52" width="1.7" height="1.5" fill="#000"/>
<rect x="454.60" y="435.78" width="1.7" height="1.5" fill="#000"/>
<rect x="454.60" y="446.05" width="1.7" height="1.5" fill="#000"/>
<rect x="454.60" y="456.32" width="1.7" height="1.5" fill="#000"/>
<rect x="454.60" y="466.58" width="1.7" height="1.5" fill="#000"/>
<rect x="454.60" y="476.85" width="1.7" height="1.5" fill="#000"/>
<rect x="472.97" y="384.45" width="1.7" height="1.5" fill="#000"/>
<rect x="472.97" y="394.72" width="1.7" height="1.5" fill="#000"/>
<rect x="472.97" y="404.98" width="1.7" height="1.5" fill="#000"/>
<rect x="472.97" y="415.25" width="1.7" height="1.5" fill="#000"/>
<rect x="472.97" y="425.52" width="1.7" height="1.5" fill="#000"/>
<rect x="472.97" y="435.78" width="1.7" height="1.5" fill="#000"/>
<rect x="472.97" y="446.05" width="1.7" height="1.5" fill="#000"/>
<rect x="472.97" y="456.32" width="1.7" height="1.5" fill="#000"/>
<rect x="472.97" y="466.58" width="1.7" height="1.5" fill="#000"/>
<rect x="472.97" y="476.85" width="1.7" height="1.5" fill="#000"/>
<rect x="491.35" y="384.45" width="1.7" height="1.5" fill="#000"/>
<rect x="491.35" y="394.72" width="1.7" height="1.5" fill="#000"/>
<rect x="491.35" y="404.98" width="1.7" height="1.5" fill="#000"/>
<rect x="491.35" y="415.25" width="1.7" height="1.5" fill="#000"/>
<rect x="491.35" y="425.52" width="1.7" height="1.5" fill="#000"/>
<rect x="491.35" y="435.78" width="1.7" height="1.5" fill="#000"/>
<rect x="491.35" y="446.05" width="1.7" height="1.5" fill="#000"/>
<rect x="491.35" y="456.32" width="1.7" height="1.5" fill="#000"/>
<rect x="491.35" y="466.58" width="1.7" height="1.5" fill="#000"/>
<rect x="491.35" y="476.85" width="1.7" height="1.5" fill="#000"/>
<path d="M415.50,506.80V356.20H494.60" fill="none" stroke="#3f3a55" stroke-width="1.2"/>
<path d="M494.60,356.20V506.80" fill="none" stroke="#8a8595" stroke-width="1.3"/>
<path d="M415.50,506.80H495.20" fill="none" stroke="#8a8595" stroke-width="1.3"/>
<line x1="413.00" y1="505.60" x2="415.50" y2="505.60" stroke="#111" stroke-width="1"/>
<line x1="413.00" y1="495.20" x2="415.50" y2="495.20" stroke="#111" stroke-width="1"/>
<line x1="413.00" y1="484.80" x2="415.50" y2="484.80" stroke="#111" stroke-width="1"/>
<line x1="413.00" y1="474.40" x2="415.50" y2="474.40" stroke="#111" stroke-width="1"/>
<line x1="413.00" y1="464.00" x2="415.50" y2="464.00" stroke="#111" stroke-width="1"/>
<line x1="413.30" y1="453.60" x2="415.50" y2="453.60" stroke="#000" stroke-width="1.8"/>
<line x1="413.00" y1="443.20" x2="415.50" y2="443.20" stroke="#111" stroke-width="1"/>
<line x1="413.00" y1="432.80" x2="415.50" y2="432.80" stroke="#111" stroke-width="1"/>
<line x1="413.00" y1="422.40" x2="415.50" y2="422.40" stroke="#111" stroke-width="1"/>
<line x1="413.00" y1="412.00" x2="415.50" y2="412.00" stroke="#111" stroke-width="1"/>
<line x1="413.30" y1="401.60" x2="415.50" y2="401.60" stroke="#000" stroke-width="1.8"/>
<line x1="413.00" y1="391.20" x2="415.50" y2="391.20" stroke="#111" stroke-width="1"/>
<line x1="413.00" y1="380.80" x2="415.50" y2="380.80" stroke="#111" stroke-width="1"/>
<line x1="413.00" y1="370.40" x2="415.50" y2="370.40" stroke="#111" stroke-width="1"/>
<line x1="413.00" y1="360.00" x2="415.50" y2="360.00" stroke="#111" stroke-width="1"/>
<line x1="416.87" y1="506.80" x2="416.87" y2="509.30" stroke="#111" stroke-width="1"/>
<line x1="429.60" y1="506.80" x2="429.60" y2="510.60" stroke="#000" stroke-width="1.8"/>
<line x1="442.33" y1="506.80" x2="442.33" y2="509.30" stroke="#111" stroke-width="1"/>
<line x1="455.06" y1="506.80" x2="455.06" y2="509.30" stroke="#111" stroke-width="1"/>
<line x1="467.79" y1="506.80" x2="467.79" y2="510.60" stroke="#000" stroke-width="1.8"/>
<line x1="480.52" y1="506.80" x2="480.52" y2="509.30" stroke="#111" stroke-width="1"/>
<line x1="493.25" y1="506.80" x2="493.25" y2="509.30" stroke="#111" stroke-width="1"/>
<text x="411.10" y="405.00" text-anchor="end" class="t">8155</text>
<text x="411.70" y="458.60" text-anchor="end" class="t">8150</text>
<text transform="translate(386.90,421.30) rotate(-90)" x="0" y="0" text-anchor="middle" class="ax" textLength="46.7" lengthAdjust="spacingAndGlyphs">North [km]</text>
<text x="429.60" y="521.30" text-anchor="middle" class="xl">604</text>
<text x="467.79" y="521.30" text-anchor="middle" class="xl">607</text>
<text x="434.70" y="529.80" class="ax" textLength="41.2" lengthAdjust="spacingAndGlyphs">East [km]</text>
<text x="414.80" y="354.30" class="ti" textLength="24.9" lengthAdjust="spacingAndGlyphs">Offset</text>
<text x="442.50" y="354.90" class="ti" style="font-size:6.6px" textLength="4.2" lengthAdjust="spacingAndGlyphs">=</text>
<text x="449.50" y="354.30" class="ti" textLength="53.1" lengthAdjust="spacingAndGlyphs">5000 m, MC 57</text>
<text x="399.80" y="348.30" class="lt">i</text>
<rect x="518.70" y="369.70" width="3.30" height="126.30" fill="url(#cbg)"/>
<line x1="522.00" y1="369.70" x2="527.00" y2="369.70" stroke="#000" stroke-width="1.6"/>
<text x="528.30" y="370.10" class="cl">1.3</text>
<line x1="522.80" y1="390.50" x2="527.80" y2="390.50" stroke="#000" stroke-width="1.6"/>
<text x="529.40" y="393.60" class="cl">1.2</text>
<line x1="522.80" y1="412.80" x2="527.80" y2="412.80" stroke="#000" stroke-width="1.6"/>
<text x="529.40" y="415.90" class="cl">1.1</text>
<line x1="522.80" y1="433.40" x2="527.80" y2="433.40" stroke="#000" stroke-width="1.6"/>
<text x="529.40" y="436.50" class="cl">1</text>
<line x1="522.80" y1="454.60" x2="527.80" y2="454.60" stroke="#000" stroke-width="1.6"/>
<text x="528.40" y="457.70" class="cl">0.9</text>
<line x1="522.80" y1="476.50" x2="527.80" y2="476.50" stroke="#000" stroke-width="1.6"/>
<text x="530.90" y="479.80" class="cl">0.8</text>
<line x1="522.80" y1="497.00" x2="527.80" y2="497.00" stroke="#000" stroke-width="1.6"/>
<text x="530.50" y="498.10" class="cl">0.7</text>
</svg>
</body></html>
